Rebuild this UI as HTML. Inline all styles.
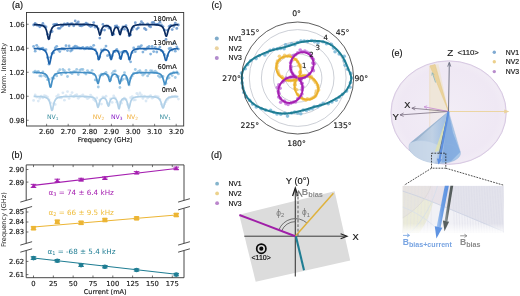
<!DOCTYPE html>
<html><head><meta charset="utf-8"><title>figure</title>
<style>html,body{margin:0;padding:0;background:#fff}svg{display:block}</style></head>
<body><svg width="520" height="296" viewBox="0 0 520 296">
<rect width="520" height="296" fill="#fff"/>
<g id="pa">
<text x="12.00" y="7.60" font-size="9.0" fill="#111" stroke="#111" stroke-width="0.16" text-anchor="start" font-family="Liberation Sans, sans-serif" >(a)</text>
<g fill="#4f84c4" fill-opacity="0.75"><circle cx="33.6" cy="25.0" r="1.4"/><circle cx="35.2" cy="23.5" r="1.4"/><circle cx="36.7" cy="25.1" r="1.4"/><circle cx="38.3" cy="25.4" r="1.4"/><circle cx="39.8" cy="26.8" r="1.4"/><circle cx="41.3" cy="25.7" r="1.4"/><circle cx="42.9" cy="23.5" r="1.4"/><circle cx="44.4" cy="25.9" r="1.4"/><circle cx="46.0" cy="27.0" r="1.4"/><circle cx="47.5" cy="34.3" r="1.4"/><circle cx="49.0" cy="38.2" r="1.4"/><circle cx="50.6" cy="31.9" r="1.4"/><circle cx="52.1" cy="31.5" r="1.4"/><circle cx="53.7" cy="24.6" r="1.4"/><circle cx="55.2" cy="24.5" r="1.4"/><circle cx="56.7" cy="24.1" r="1.4"/><circle cx="58.3" cy="28.3" r="1.4"/><circle cx="59.8" cy="28.3" r="1.4"/><circle cx="61.4" cy="26.5" r="1.4"/><circle cx="62.9" cy="25.5" r="1.4"/><circle cx="64.4" cy="23.9" r="1.4"/><circle cx="66.0" cy="24.6" r="1.4"/><circle cx="67.5" cy="23.4" r="1.4"/><circle cx="69.1" cy="25.8" r="1.4"/><circle cx="70.6" cy="23.8" r="1.4"/><circle cx="72.1" cy="23.6" r="1.4"/><circle cx="73.7" cy="25.8" r="1.4"/><circle cx="75.2" cy="20.9" r="1.4"/><circle cx="76.7" cy="23.3" r="1.4"/><circle cx="78.3" cy="22.0" r="1.4"/><circle cx="79.8" cy="25.7" r="1.4"/><circle cx="81.4" cy="25.9" r="1.4"/><circle cx="82.9" cy="25.2" r="1.4"/><circle cx="84.4" cy="24.7" r="1.4"/><circle cx="86.0" cy="23.2" r="1.4"/><circle cx="87.5" cy="24.0" r="1.4"/><circle cx="89.1" cy="25.5" r="1.4"/><circle cx="90.6" cy="26.6" r="1.4"/><circle cx="92.1" cy="25.9" r="1.4"/><circle cx="93.7" cy="22.6" r="1.4"/><circle cx="95.2" cy="27.2" r="1.4"/><circle cx="96.8" cy="26.1" r="1.4"/><circle cx="98.3" cy="28.8" r="1.4"/><circle cx="99.8" cy="38.1" r="1.4"/><circle cx="101.4" cy="30.4" r="1.4"/><circle cx="102.9" cy="24.4" r="1.4"/><circle cx="104.5" cy="30.1" r="1.4"/><circle cx="106.0" cy="26.3" r="1.4"/><circle cx="107.5" cy="26.0" r="1.4"/><circle cx="109.1" cy="28.2" r="1.4"/><circle cx="110.6" cy="27.9" r="1.4"/><circle cx="112.2" cy="34.8" r="1.4"/><circle cx="113.7" cy="34.2" r="1.4"/><circle cx="115.2" cy="26.1" r="1.4"/><circle cx="116.8" cy="26.0" r="1.4"/><circle cx="118.3" cy="27.5" r="1.4"/><circle cx="119.9" cy="31.6" r="1.4"/><circle cx="121.4" cy="29.6" r="1.4"/><circle cx="122.9" cy="27.0" r="1.4"/><circle cx="124.5" cy="29.2" r="1.4"/><circle cx="126.0" cy="25.7" r="1.4"/><circle cx="127.6" cy="30.5" r="1.4"/><circle cx="129.1" cy="35.8" r="1.4"/><circle cx="130.6" cy="34.8" r="1.4"/><circle cx="132.2" cy="29.5" r="1.4"/><circle cx="133.7" cy="27.0" r="1.4"/><circle cx="135.3" cy="22.7" r="1.4"/><circle cx="136.8" cy="29.1" r="1.4"/><circle cx="138.3" cy="27.8" r="1.4"/><circle cx="139.9" cy="24.2" r="1.4"/><circle cx="141.4" cy="21.7" r="1.4"/><circle cx="142.9" cy="23.4" r="1.4"/><circle cx="144.5" cy="28.4" r="1.4"/><circle cx="146.0" cy="29.7" r="1.4"/><circle cx="147.6" cy="23.8" r="1.4"/><circle cx="149.1" cy="26.1" r="1.4"/><circle cx="150.6" cy="26.9" r="1.4"/><circle cx="152.2" cy="22.6" r="1.4"/><circle cx="153.7" cy="22.4" r="1.4"/><circle cx="155.3" cy="24.4" r="1.4"/><circle cx="156.8" cy="24.4" r="1.4"/><circle cx="158.3" cy="24.2" r="1.4"/><circle cx="159.9" cy="22.2" r="1.4"/><circle cx="161.4" cy="24.9" r="1.4"/><circle cx="163.0" cy="26.6" r="1.4"/><circle cx="164.5" cy="30.1" r="1.4"/><circle cx="166.0" cy="39.4" r="1.4"/><circle cx="167.6" cy="30.2" r="1.4"/><circle cx="169.1" cy="26.4" r="1.4"/><circle cx="170.7" cy="25.4" r="1.4"/><circle cx="172.2" cy="29.6" r="1.4"/><circle cx="173.7" cy="26.4" r="1.4"/><circle cx="175.3" cy="23.2" r="1.4"/><circle cx="176.8" cy="28.4" r="1.4"/><circle cx="178.4" cy="25.0" r="1.4"/></g>
<polyline fill="none" stroke="#0a2c62" stroke-width="1.7" stroke-linejoin="round" points="33.64,24.51 34.00,24.53 34.36,24.54 34.73,24.55 35.09,24.57 35.45,24.58 35.81,24.60 36.17,24.62 36.53,24.64 36.90,24.66 37.26,24.69 37.62,24.71 37.98,24.74 38.34,24.78 38.71,24.81 39.07,24.85 39.43,24.90 39.79,24.95 40.15,25.00 40.51,25.06 40.88,25.13 41.24,25.21 41.60,25.30 41.96,25.41 42.32,25.53 42.69,25.67 43.05,25.83 43.41,26.02 43.77,26.25 44.13,26.52 44.49,26.85 44.86,27.26 45.22,27.75 45.58,28.36 45.94,29.11 46.30,30.05 46.66,31.22 47.03,32.63 47.39,34.29 47.75,36.09 48.11,37.78 48.47,38.96 48.84,39.26 49.20,38.56 49.56,37.11 49.92,35.34 50.28,33.58 50.64,32.01 51.01,30.70 51.37,29.64 51.73,28.78 52.09,28.09 52.45,27.54 52.82,27.09 53.18,26.72 53.54,26.41 53.90,26.16 54.26,25.95 54.62,25.77 54.99,25.62 55.35,25.49 55.71,25.37 56.07,25.28 56.43,25.19 56.80,25.12 57.16,25.05 57.52,24.99 57.88,24.94 58.24,24.89 58.60,24.85 58.97,24.82 59.33,24.78 59.69,24.75 60.05,24.72 60.41,24.70 60.77,24.68 61.14,24.66 61.50,24.64 61.86,24.62 62.22,24.60 62.58,24.59 62.95,24.57 63.31,24.56 63.67,24.55 64.03,24.54 64.39,24.53 64.75,24.52 65.12,24.51 65.48,24.50 65.84,24.50 66.20,24.49 66.56,24.48 66.93,24.48 67.29,24.47 67.65,24.47 68.01,24.46 68.37,24.46 68.73,24.45 69.10,24.45 69.46,24.45 69.82,24.44 70.18,24.44 70.54,24.44 70.91,24.43 71.27,24.43 71.63,24.43 71.99,24.43 72.35,24.43 72.71,24.42 73.08,24.42 73.44,24.42 73.80,24.42 74.16,24.42 74.52,24.42 74.89,24.42 75.25,24.42 75.61,24.42 75.97,24.42 76.33,24.42 76.69,24.42 77.06,24.42 77.42,24.42 77.78,24.42 78.14,24.42 78.50,24.42 78.87,24.43 79.23,24.43 79.59,24.43 79.95,24.43 80.31,24.43 80.67,24.44 81.04,24.44 81.40,24.44 81.76,24.44 82.12,24.45 82.48,24.45 82.84,24.46 83.21,24.46 83.57,24.46 83.93,24.47 84.29,24.47 84.65,24.48 85.02,24.49 85.38,24.49 85.74,24.50 86.10,24.51 86.46,24.52 86.82,24.53 87.19,24.54 87.55,24.55 87.91,24.56 88.27,24.57 88.63,24.59 89.00,24.60 89.36,24.62 89.72,24.64 90.08,24.66 90.44,24.68 90.80,24.71 91.17,24.73 91.53,24.77 91.89,24.80 92.25,24.84 92.61,24.89 92.98,24.94 93.34,25.00 93.70,25.07 94.06,25.15 94.42,25.25 94.78,25.36 95.15,25.50 95.51,25.67 95.87,25.87 96.23,26.12 96.59,26.44 96.95,26.84 97.32,27.35 97.68,28.02 98.04,28.88 98.40,29.99 98.76,31.35 99.13,32.87 99.49,34.26 99.85,35.03 100.21,34.82 100.57,33.74 100.93,32.27 101.30,30.82 101.66,29.59 102.02,28.61 102.38,27.86 102.74,27.30 103.11,26.86 103.47,26.53 103.83,26.28 104.19,26.09 104.55,25.94 104.91,25.83 105.28,25.76 105.64,25.70 106.00,25.68 106.36,25.67 106.72,25.69 107.09,25.73 107.45,25.79 107.81,25.88 108.17,26.01 108.53,26.18 108.89,26.40 109.26,26.69 109.62,27.07 109.98,27.57 110.34,28.24 110.70,29.13 111.07,30.29 111.43,31.73 111.79,33.32 112.15,34.64 112.51,35.12 112.87,34.51 113.24,33.16 113.60,31.64 113.96,30.31 114.32,29.27 114.68,28.51 115.05,27.97 115.41,27.61 115.77,27.39 116.13,27.29 116.49,27.29 116.85,27.41 117.22,27.64 117.58,28.02 117.94,28.58 118.30,29.37 118.66,30.42 119.02,31.75 119.39,33.19 119.75,34.33 120.11,34.63 120.47,33.92 120.83,32.57 121.20,31.11 121.56,29.84 121.92,28.85 122.28,28.11 122.64,27.56 123.00,27.17 123.37,26.89 123.73,26.69 124.09,26.58 124.45,26.52 124.81,26.52 125.18,26.58 125.54,26.69 125.90,26.88 126.26,27.15 126.62,27.52 126.98,28.03 127.35,28.71 127.71,29.62 128.07,30.79 128.43,32.22 128.79,33.78 129.16,35.11 129.52,35.68 129.88,35.21 130.24,33.92 130.60,32.33 130.96,30.82 131.33,29.56 131.69,28.56 132.05,27.79 132.41,27.20 132.77,26.74 133.13,26.38 133.50,26.09 133.86,25.86 134.22,25.67 134.58,25.52 134.94,25.39 135.31,25.28 135.67,25.19 136.03,25.11 136.39,25.04 136.75,24.98 137.11,24.93 137.48,24.89 137.84,24.85 138.20,24.81 138.56,24.78 138.92,24.76 139.29,24.73 139.65,24.71 140.01,24.69 140.37,24.67 140.73,24.66 141.09,24.64 141.46,24.63 141.82,24.62 142.18,24.61 142.54,24.60 142.90,24.59 143.27,24.58 143.63,24.58 143.99,24.57 144.35,24.57 144.71,24.56 145.07,24.56 145.44,24.55 145.80,24.55 146.16,24.55 146.52,24.55 146.88,24.55 147.25,24.55 147.61,24.55 147.97,24.55 148.33,24.55 148.69,24.55 149.05,24.55 149.42,24.56 149.78,24.56 150.14,24.57 150.50,24.57 150.86,24.58 151.22,24.58 151.59,24.59 151.95,24.60 152.31,24.61 152.67,24.62 153.03,24.63 153.40,24.65 153.76,24.66 154.12,24.68 154.48,24.70 154.84,24.72 155.20,24.74 155.57,24.76 155.93,24.79 156.29,24.82 156.65,24.85 157.01,24.89 157.38,24.93 157.74,24.98 158.10,25.04 158.46,25.10 158.82,25.17 159.18,25.25 159.55,25.34 159.91,25.45 160.27,25.58 160.63,25.72 160.99,25.89 161.36,26.10 161.72,26.34 162.08,26.64 162.44,26.99 162.80,27.43 163.16,27.96 163.53,28.62 163.89,29.43 164.25,30.42 164.61,31.58 164.97,32.90 165.34,34.26 165.70,35.45 166.06,36.18 166.42,36.23 166.78,35.58 167.14,34.43 167.51,33.08 167.87,31.75 168.23,30.55 168.59,29.54 168.95,28.71 169.31,28.03 169.68,27.48 170.04,27.03 170.40,26.66 170.76,26.36 171.12,26.11 171.49,25.90 171.85,25.72 172.21,25.57 172.57,25.44 172.93,25.33 173.29,25.23 173.66,25.15 174.02,25.07 174.38,25.01 174.74,24.95 175.10,24.90 175.47,24.85 175.83,24.81 176.19,24.78 176.55,24.74 176.91,24.71 177.27,24.69 177.64,24.66 178.00,24.64 178.36,24.62"/>
<g fill="#5f9bd2" fill-opacity="0.75"><circle cx="33.6" cy="46.4" r="1.4"/><circle cx="35.2" cy="51.2" r="1.4"/><circle cx="36.7" cy="45.3" r="1.4"/><circle cx="38.3" cy="47.6" r="1.4"/><circle cx="39.8" cy="49.2" r="1.4"/><circle cx="41.3" cy="48.5" r="1.4"/><circle cx="42.9" cy="48.2" r="1.4"/><circle cx="44.4" cy="50.1" r="1.4"/><circle cx="46.0" cy="49.7" r="1.4"/><circle cx="47.5" cy="57.6" r="1.4"/><circle cx="49.0" cy="64.2" r="1.4"/><circle cx="50.6" cy="57.6" r="1.4"/><circle cx="52.1" cy="53.5" r="1.4"/><circle cx="53.7" cy="52.8" r="1.4"/><circle cx="55.2" cy="47.9" r="1.4"/><circle cx="56.7" cy="46.3" r="1.4"/><circle cx="58.3" cy="49.9" r="1.4"/><circle cx="59.8" cy="51.6" r="1.4"/><circle cx="61.4" cy="49.0" r="1.4"/><circle cx="62.9" cy="48.9" r="1.4"/><circle cx="64.4" cy="49.2" r="1.4"/><circle cx="66.0" cy="45.7" r="1.4"/><circle cx="67.5" cy="50.6" r="1.4"/><circle cx="69.1" cy="45.9" r="1.4"/><circle cx="70.6" cy="51.0" r="1.4"/><circle cx="72.1" cy="50.0" r="1.4"/><circle cx="73.7" cy="47.1" r="1.4"/><circle cx="75.2" cy="46.1" r="1.4"/><circle cx="76.7" cy="46.7" r="1.4"/><circle cx="78.3" cy="47.7" r="1.4"/><circle cx="79.8" cy="48.2" r="1.4"/><circle cx="81.4" cy="48.2" r="1.4"/><circle cx="82.9" cy="47.3" r="1.4"/><circle cx="84.4" cy="48.9" r="1.4"/><circle cx="86.0" cy="48.0" r="1.4"/><circle cx="87.5" cy="47.4" r="1.4"/><circle cx="89.1" cy="48.7" r="1.4"/><circle cx="90.6" cy="47.2" r="1.4"/><circle cx="92.1" cy="47.9" r="1.4"/><circle cx="93.7" cy="45.3" r="1.4"/><circle cx="95.2" cy="49.6" r="1.4"/><circle cx="96.8" cy="53.4" r="1.4"/><circle cx="98.3" cy="59.1" r="1.4"/><circle cx="99.8" cy="56.7" r="1.4"/><circle cx="101.4" cy="50.0" r="1.4"/><circle cx="102.9" cy="51.0" r="1.4"/><circle cx="104.5" cy="49.0" r="1.4"/><circle cx="106.0" cy="46.1" r="1.4"/><circle cx="107.5" cy="55.7" r="1.4"/><circle cx="109.1" cy="54.8" r="1.4"/><circle cx="110.6" cy="57.8" r="1.4"/><circle cx="112.2" cy="55.7" r="1.4"/><circle cx="113.7" cy="51.4" r="1.4"/><circle cx="115.2" cy="51.5" r="1.4"/><circle cx="116.8" cy="49.3" r="1.4"/><circle cx="118.3" cy="51.4" r="1.4"/><circle cx="119.9" cy="57.9" r="1.4"/><circle cx="121.4" cy="52.4" r="1.4"/><circle cx="122.9" cy="51.6" r="1.4"/><circle cx="124.5" cy="52.0" r="1.4"/><circle cx="126.0" cy="51.3" r="1.4"/><circle cx="127.6" cy="53.8" r="1.4"/><circle cx="129.1" cy="59.1" r="1.4"/><circle cx="130.6" cy="61.8" r="1.4"/><circle cx="132.2" cy="52.6" r="1.4"/><circle cx="133.7" cy="47.9" r="1.4"/><circle cx="135.3" cy="51.7" r="1.4"/><circle cx="136.8" cy="49.1" r="1.4"/><circle cx="138.3" cy="46.9" r="1.4"/><circle cx="139.9" cy="47.0" r="1.4"/><circle cx="141.4" cy="45.6" r="1.4"/><circle cx="142.9" cy="52.1" r="1.4"/><circle cx="144.5" cy="49.3" r="1.4"/><circle cx="146.0" cy="49.3" r="1.4"/><circle cx="147.6" cy="47.3" r="1.4"/><circle cx="149.1" cy="46.3" r="1.4"/><circle cx="150.6" cy="54.1" r="1.4"/><circle cx="152.2" cy="46.4" r="1.4"/><circle cx="153.7" cy="51.6" r="1.4"/><circle cx="155.3" cy="47.4" r="1.4"/><circle cx="156.8" cy="52.0" r="1.4"/><circle cx="158.3" cy="48.8" r="1.4"/><circle cx="159.9" cy="47.1" r="1.4"/><circle cx="161.4" cy="50.7" r="1.4"/><circle cx="163.0" cy="51.8" r="1.4"/><circle cx="164.5" cy="54.7" r="1.4"/><circle cx="166.0" cy="60.0" r="1.4"/><circle cx="167.6" cy="55.8" r="1.4"/><circle cx="169.1" cy="48.7" r="1.4"/><circle cx="170.7" cy="48.1" r="1.4"/><circle cx="172.2" cy="50.1" r="1.4"/><circle cx="173.7" cy="43.5" r="1.4"/><circle cx="175.3" cy="51.2" r="1.4"/><circle cx="176.8" cy="46.8" r="1.4"/><circle cx="178.4" cy="49.1" r="1.4"/></g>
<polyline fill="none" stroke="#1c62ab" stroke-width="1.7" stroke-linejoin="round" points="33.64,48.50 34.00,48.51 34.36,48.53 34.73,48.54 35.09,48.55 35.45,48.57 35.81,48.58 36.17,48.60 36.53,48.62 36.90,48.64 37.26,48.66 37.62,48.69 37.98,48.71 38.34,48.74 38.71,48.77 39.07,48.81 39.43,48.84 39.79,48.89 40.15,48.93 40.51,48.99 40.88,49.04 41.24,49.11 41.60,49.19 41.96,49.27 42.32,49.37 42.69,49.48 43.05,49.61 43.41,49.76 43.77,49.93 44.13,50.14 44.49,50.39 44.86,50.68 45.22,51.04 45.58,51.48 45.94,52.01 46.30,52.67 46.66,53.49 47.03,54.52 47.39,55.78 47.75,57.31 48.11,59.08 48.47,60.95 48.84,62.64 49.20,63.70 49.56,63.79 49.92,62.87 50.28,61.25 50.64,59.39 51.01,57.59 51.37,56.02 51.73,54.71 52.09,53.65 52.45,52.80 52.82,52.12 53.18,51.56 53.54,51.11 53.90,50.75 54.26,50.44 54.62,50.19 54.99,49.98 55.35,49.80 55.71,49.64 56.07,49.51 56.43,49.40 56.80,49.30 57.16,49.21 57.52,49.14 57.88,49.07 58.24,49.01 58.60,48.96 58.97,48.91 59.33,48.87 59.69,48.83 60.05,48.80 60.41,48.77 60.77,48.74 61.14,48.71 61.50,48.69 61.86,48.67 62.22,48.65 62.58,48.63 62.95,48.62 63.31,48.60 63.67,48.59 64.03,48.57 64.39,48.56 64.75,48.55 65.12,48.54 65.48,48.53 65.84,48.52 66.20,48.52 66.56,48.51 66.93,48.50 67.29,48.49 67.65,48.49 68.01,48.48 68.37,48.48 68.73,48.47 69.10,48.47 69.46,48.47 69.82,48.46 70.18,48.46 70.54,48.45 70.91,48.45 71.27,48.45 71.63,48.45 71.99,48.45 72.35,48.44 72.71,48.44 73.08,48.44 73.44,48.44 73.80,48.44 74.16,48.44 74.52,48.44 74.89,48.44 75.25,48.44 75.61,48.44 75.97,48.44 76.33,48.44 76.69,48.44 77.06,48.44 77.42,48.44 77.78,48.44 78.14,48.44 78.50,48.44 78.87,48.44 79.23,48.45 79.59,48.45 79.95,48.45 80.31,48.45 80.67,48.46 81.04,48.46 81.40,48.46 81.76,48.47 82.12,48.47 82.48,48.48 82.84,48.48 83.21,48.49 83.57,48.49 83.93,48.50 84.29,48.51 84.65,48.51 85.02,48.52 85.38,48.53 85.74,48.54 86.10,48.55 86.46,48.56 86.82,48.57 87.19,48.59 87.55,48.60 87.91,48.62 88.27,48.64 88.63,48.65 89.00,48.68 89.36,48.70 89.72,48.73 90.08,48.76 90.44,48.79 90.80,48.83 91.17,48.87 91.53,48.92 91.89,48.97 92.25,49.03 92.61,49.11 92.98,49.19 93.34,49.29 93.70,49.41 94.06,49.55 94.42,49.73 94.78,49.94 95.15,50.20 95.51,50.53 95.87,50.94 96.23,51.48 96.59,52.17 96.95,53.08 97.32,54.23 97.68,55.65 98.04,57.24 98.40,58.69 98.76,59.51 99.13,59.31 99.49,58.19 99.85,56.65 100.21,55.13 100.57,53.84 100.93,52.82 101.30,52.04 101.66,51.44 102.02,50.99 102.38,50.64 102.74,50.38 103.11,50.17 103.47,50.02 103.83,49.91 104.19,49.83 104.55,49.78 104.91,49.76 105.28,49.76 105.64,49.78 106.00,49.83 106.36,49.91 106.72,50.02 107.09,50.17 107.45,50.37 107.81,50.64 108.17,50.99 108.53,51.46 108.89,52.08 109.26,52.90 109.62,54.00 109.98,55.40 110.34,57.03 110.70,58.60 111.07,59.54 111.43,59.34 111.79,58.14 112.15,56.52 112.51,54.97 112.87,53.70 113.24,52.73 113.60,52.01 113.96,51.49 114.32,51.11 114.68,50.83 115.05,50.65 115.41,50.53 115.77,50.47 116.13,50.47 116.49,50.53 116.85,50.64 117.22,50.82 117.58,51.09 117.94,51.46 118.30,51.97 118.66,52.67 119.02,53.61 119.39,54.84 119.75,56.33 120.11,57.87 120.47,58.96 120.83,59.08 121.20,58.15 121.56,56.67 121.92,55.16 122.28,53.89 122.64,52.92 123.00,52.20 123.37,51.68 123.73,51.31 124.09,51.06 124.45,50.90 124.81,50.83 125.18,50.83 125.54,50.91 125.90,51.06 126.26,51.30 126.62,51.65 126.98,52.14 127.35,52.81 127.71,53.70 128.07,54.86 128.43,56.29 128.79,57.84 129.16,59.16 129.52,59.73 129.88,59.25 130.24,57.96 130.60,56.36 130.96,54.85 131.33,53.59 131.69,52.59 132.05,51.82 132.41,51.22 132.77,50.76 133.13,50.40 133.50,50.11 133.86,49.88 134.22,49.69 134.58,49.53 134.94,49.40 135.31,49.29 135.67,49.20 136.03,49.12 136.39,49.05 136.75,48.99 137.11,48.94 137.48,48.90 137.84,48.86 138.20,48.82 138.56,48.79 138.92,48.77 139.29,48.74 139.65,48.72 140.01,48.70 140.37,48.68 140.73,48.67 141.09,48.65 141.46,48.64 141.82,48.63 142.18,48.62 142.54,48.61 142.90,48.60 143.27,48.59 143.63,48.58 143.99,48.58 144.35,48.57 144.71,48.57 145.07,48.56 145.44,48.56 145.80,48.56 146.16,48.56 146.52,48.56 146.88,48.56 147.25,48.55 147.61,48.56 147.97,48.56 148.33,48.56 148.69,48.56 149.05,48.56 149.42,48.57 149.78,48.57 150.14,48.58 150.50,48.58 150.86,48.59 151.22,48.60 151.59,48.61 151.95,48.61 152.31,48.63 152.67,48.64 153.03,48.65 153.40,48.66 153.76,48.68 154.12,48.70 154.48,48.72 154.84,48.74 155.20,48.76 155.57,48.79 155.93,48.82 156.29,48.85 156.65,48.89 157.01,48.93 157.38,48.98 157.74,49.03 158.10,49.10 158.46,49.17 158.82,49.24 159.18,49.34 159.55,49.44 159.91,49.56 160.27,49.71 160.63,49.88 160.99,50.08 161.36,50.32 161.72,50.61 162.08,50.96 162.44,51.38 162.80,51.91 163.16,52.55 163.53,53.34 163.89,54.31 164.25,55.46 164.61,56.76 164.97,58.13 165.34,59.34 165.70,60.14 166.06,60.26 166.42,59.68 166.78,58.57 167.14,57.23 167.51,55.88 167.87,54.67 168.23,53.64 168.59,52.79 168.95,52.10 169.31,51.53 169.68,51.07 170.04,50.70 170.40,50.39 170.76,50.13 171.12,49.92 171.49,49.74 171.85,49.58 172.21,49.45 172.57,49.34 172.93,49.24 173.29,49.16 173.66,49.08 174.02,49.02 174.38,48.96 174.74,48.91 175.10,48.86 175.47,48.82 175.83,48.78 176.19,48.75 176.55,48.72 176.91,48.69 177.27,48.66 177.64,48.64 178.00,48.62 178.36,48.60"/>
<g fill="#86b9dd" fill-opacity="0.75"><circle cx="33.6" cy="72.2" r="1.4"/><circle cx="35.2" cy="71.1" r="1.4"/><circle cx="36.7" cy="72.1" r="1.4"/><circle cx="38.3" cy="71.3" r="1.4"/><circle cx="39.8" cy="75.9" r="1.4"/><circle cx="41.3" cy="76.0" r="1.4"/><circle cx="42.9" cy="71.9" r="1.4"/><circle cx="44.4" cy="75.6" r="1.4"/><circle cx="46.0" cy="76.7" r="1.4"/><circle cx="47.5" cy="79.7" r="1.4"/><circle cx="49.0" cy="79.3" r="1.4"/><circle cx="50.6" cy="85.7" r="1.4"/><circle cx="52.1" cy="78.1" r="1.4"/><circle cx="53.7" cy="78.3" r="1.4"/><circle cx="55.2" cy="74.5" r="1.4"/><circle cx="56.7" cy="75.9" r="1.4"/><circle cx="58.3" cy="71.6" r="1.4"/><circle cx="59.8" cy="69.7" r="1.4"/><circle cx="61.4" cy="74.6" r="1.4"/><circle cx="62.9" cy="69.5" r="1.4"/><circle cx="64.4" cy="70.6" r="1.4"/><circle cx="66.0" cy="72.9" r="1.4"/><circle cx="67.5" cy="76.5" r="1.4"/><circle cx="69.1" cy="69.6" r="1.4"/><circle cx="70.6" cy="72.7" r="1.4"/><circle cx="72.1" cy="73.7" r="1.4"/><circle cx="73.7" cy="71.6" r="1.4"/><circle cx="75.2" cy="71.6" r="1.4"/><circle cx="76.7" cy="69.4" r="1.4"/><circle cx="78.3" cy="74.5" r="1.4"/><circle cx="79.8" cy="70.1" r="1.4"/><circle cx="81.4" cy="69.4" r="1.4"/><circle cx="82.9" cy="69.5" r="1.4"/><circle cx="84.4" cy="72.9" r="1.4"/><circle cx="86.0" cy="74.1" r="1.4"/><circle cx="87.5" cy="70.6" r="1.4"/><circle cx="89.1" cy="72.5" r="1.4"/><circle cx="90.6" cy="72.6" r="1.4"/><circle cx="92.1" cy="70.3" r="1.4"/><circle cx="93.7" cy="74.3" r="1.4"/><circle cx="95.2" cy="79.9" r="1.4"/><circle cx="96.8" cy="80.2" r="1.4"/><circle cx="98.3" cy="87.0" r="1.4"/><circle cx="99.8" cy="75.7" r="1.4"/><circle cx="101.4" cy="74.1" r="1.4"/><circle cx="102.9" cy="75.1" r="1.4"/><circle cx="104.5" cy="73.7" r="1.4"/><circle cx="106.0" cy="72.3" r="1.4"/><circle cx="107.5" cy="75.2" r="1.4"/><circle cx="109.1" cy="76.8" r="1.4"/><circle cx="110.6" cy="80.0" r="1.4"/><circle cx="112.2" cy="73.5" r="1.4"/><circle cx="113.7" cy="71.3" r="1.4"/><circle cx="115.2" cy="71.0" r="1.4"/><circle cx="116.8" cy="76.5" r="1.4"/><circle cx="118.3" cy="76.5" r="1.4"/><circle cx="119.9" cy="87.5" r="1.4"/><circle cx="121.4" cy="80.4" r="1.4"/><circle cx="122.9" cy="79.3" r="1.4"/><circle cx="124.5" cy="72.7" r="1.4"/><circle cx="126.0" cy="78.4" r="1.4"/><circle cx="127.6" cy="79.9" r="1.4"/><circle cx="129.1" cy="84.9" r="1.4"/><circle cx="130.6" cy="78.2" r="1.4"/><circle cx="132.2" cy="76.1" r="1.4"/><circle cx="133.7" cy="73.2" r="1.4"/><circle cx="135.3" cy="69.5" r="1.4"/><circle cx="136.8" cy="72.8" r="1.4"/><circle cx="138.3" cy="71.7" r="1.4"/><circle cx="139.9" cy="70.6" r="1.4"/><circle cx="141.4" cy="73.0" r="1.4"/><circle cx="142.9" cy="75.2" r="1.4"/><circle cx="144.5" cy="73.7" r="1.4"/><circle cx="146.0" cy="70.4" r="1.4"/><circle cx="147.6" cy="75.9" r="1.4"/><circle cx="149.1" cy="73.8" r="1.4"/><circle cx="150.6" cy="70.6" r="1.4"/><circle cx="152.2" cy="71.0" r="1.4"/><circle cx="153.7" cy="72.7" r="1.4"/><circle cx="155.3" cy="71.2" r="1.4"/><circle cx="156.8" cy="72.7" r="1.4"/><circle cx="158.3" cy="75.8" r="1.4"/><circle cx="159.9" cy="77.2" r="1.4"/><circle cx="161.4" cy="76.6" r="1.4"/><circle cx="163.0" cy="76.4" r="1.4"/><circle cx="164.5" cy="84.6" r="1.4"/><circle cx="166.0" cy="83.4" r="1.4"/><circle cx="167.6" cy="78.4" r="1.4"/><circle cx="169.1" cy="77.7" r="1.4"/><circle cx="170.7" cy="73.9" r="1.4"/><circle cx="172.2" cy="75.6" r="1.4"/><circle cx="173.7" cy="72.2" r="1.4"/><circle cx="175.3" cy="77.5" r="1.4"/><circle cx="176.8" cy="72.0" r="1.4"/><circle cx="178.4" cy="73.9" r="1.4"/></g>
<polyline fill="none" stroke="#4590c6" stroke-width="1.7" stroke-linejoin="round" points="33.64,72.47 34.00,72.48 34.36,72.49 34.73,72.50 35.09,72.51 35.45,72.52 35.81,72.53 36.17,72.54 36.53,72.56 36.90,72.57 37.26,72.59 37.62,72.61 37.98,72.63 38.34,72.65 38.71,72.67 39.07,72.70 39.43,72.72 39.79,72.75 40.15,72.79 40.51,72.82 40.88,72.86 41.24,72.91 41.60,72.96 41.96,73.02 42.32,73.08 42.69,73.15 43.05,73.23 43.41,73.33 43.77,73.44 44.13,73.56 44.49,73.70 44.86,73.87 45.22,74.07 45.58,74.31 45.94,74.60 46.30,74.94 46.66,75.36 47.03,75.88 47.39,76.51 47.75,77.31 48.11,78.29 48.47,79.51 48.84,80.99 49.20,82.69 49.56,84.49 49.92,86.11 50.28,87.12 50.64,87.19 51.01,86.29 51.37,84.73 51.73,82.94 52.09,81.21 52.45,79.70 52.82,78.45 53.18,77.43 53.54,76.62 53.90,75.96 54.26,75.43 54.62,75.00 54.99,74.65 55.35,74.36 55.71,74.11 56.07,73.91 56.43,73.74 56.80,73.59 57.16,73.47 57.52,73.36 57.88,73.26 58.24,73.18 58.60,73.11 58.97,73.04 59.33,72.99 59.69,72.94 60.05,72.89 60.41,72.85 60.77,72.81 61.14,72.78 61.50,72.75 61.86,72.73 62.22,72.70 62.58,72.68 62.95,72.66 63.31,72.64 63.67,72.62 64.03,72.61 64.39,72.59 64.75,72.58 65.12,72.57 65.48,72.56 65.84,72.55 66.20,72.54 66.56,72.53 66.93,72.52 67.29,72.51 67.65,72.51 68.01,72.50 68.37,72.49 68.73,72.49 69.10,72.48 69.46,72.48 69.82,72.47 70.18,72.47 70.54,72.47 70.91,72.46 71.27,72.46 71.63,72.46 71.99,72.45 72.35,72.45 72.71,72.45 73.08,72.45 73.44,72.45 73.80,72.45 74.16,72.44 74.52,72.44 74.89,72.44 75.25,72.44 75.61,72.44 75.97,72.44 76.33,72.44 76.69,72.44 77.06,72.45 77.42,72.45 77.78,72.45 78.14,72.45 78.50,72.45 78.87,72.45 79.23,72.46 79.59,72.46 79.95,72.46 80.31,72.46 80.67,72.47 81.04,72.47 81.40,72.48 81.76,72.48 82.12,72.48 82.48,72.49 82.84,72.50 83.21,72.50 83.57,72.51 83.93,72.52 84.29,72.52 84.65,72.53 85.02,72.54 85.38,72.55 85.74,72.56 86.10,72.58 86.46,72.59 86.82,72.61 87.19,72.62 87.55,72.64 87.91,72.66 88.27,72.68 88.63,72.71 89.00,72.73 89.36,72.76 89.72,72.80 90.08,72.84 90.44,72.88 90.80,72.93 91.17,72.99 91.53,73.05 91.89,73.13 92.25,73.22 92.61,73.33 92.98,73.45 93.34,73.61 93.70,73.79 94.06,74.02 94.42,74.31 94.78,74.67 95.15,75.13 95.51,75.72 95.87,76.48 96.23,77.48 96.59,78.74 96.95,80.24 97.32,81.83 97.68,83.10 98.04,83.54 98.40,82.94 98.76,81.60 99.13,80.02 99.49,78.58 99.85,77.39 100.21,76.47 100.57,75.76 100.93,75.22 101.30,74.81 101.66,74.50 102.02,74.26 102.38,74.08 102.74,73.94 103.11,73.84 103.47,73.77 103.83,73.73 104.19,73.71 104.55,73.72 104.91,73.75 105.28,73.82 105.64,73.91 106.00,74.04 106.36,74.22 106.72,74.46 107.09,74.79 107.45,75.22 107.81,75.80 108.17,76.58 108.53,77.59 108.89,78.84 109.26,80.16 109.62,81.18 109.98,81.43 110.34,80.75 110.70,79.54 111.07,78.24 111.43,77.13 111.79,76.26 112.15,75.61 112.51,75.13 112.87,74.78 113.24,74.54 113.60,74.37 113.96,74.26 114.32,74.20 114.68,74.18 115.05,74.21 115.41,74.29 115.77,74.41 116.13,74.59 116.49,74.84 116.85,75.19 117.22,75.66 117.58,76.29 117.94,77.14 118.30,78.26 118.66,79.69 119.02,81.34 119.39,82.87 119.75,83.68 120.11,83.35 120.47,82.07 120.83,80.44 121.20,78.93 121.56,77.71 121.92,76.78 122.28,76.11 122.64,75.62 123.00,75.28 123.37,75.05 123.73,74.92 124.09,74.86 124.45,74.87 124.81,74.96 125.18,75.13 125.54,75.38 125.90,75.75 126.26,76.26 126.62,76.95 126.98,77.87 127.35,79.08 127.71,80.58 128.07,82.26 128.43,83.80 128.79,84.63 129.16,84.36 129.52,83.10 129.88,81.39 130.24,79.70 130.60,78.27 130.96,77.13 131.33,76.25 131.69,75.57 132.05,75.04 132.41,74.62 132.77,74.30 133.13,74.03 133.50,73.82 133.86,73.65 134.22,73.50 134.58,73.38 134.94,73.28 135.31,73.19 135.67,73.11 136.03,73.05 136.39,72.99 136.75,72.94 137.11,72.90 137.48,72.86 137.84,72.82 138.20,72.79 138.56,72.77 138.92,72.74 139.29,72.72 139.65,72.70 140.01,72.68 140.37,72.67 140.73,72.65 141.09,72.64 141.46,72.63 141.82,72.62 142.18,72.61 142.54,72.60 142.90,72.59 143.27,72.59 143.63,72.58 143.99,72.58 144.35,72.57 144.71,72.57 145.07,72.57 145.44,72.56 145.80,72.56 146.16,72.56 146.52,72.56 146.88,72.56 147.25,72.56 147.61,72.56 147.97,72.57 148.33,72.57 148.69,72.57 149.05,72.58 149.42,72.58 149.78,72.59 150.14,72.60 150.50,72.60 150.86,72.61 151.22,72.62 151.59,72.63 151.95,72.64 152.31,72.66 152.67,72.67 153.03,72.69 153.40,72.71 153.76,72.73 154.12,72.75 154.48,72.78 154.84,72.80 155.20,72.84 155.57,72.87 155.93,72.91 156.29,72.96 156.65,73.01 157.01,73.06 157.38,73.13 157.74,73.20 158.10,73.29 158.46,73.39 158.82,73.50 159.18,73.64 159.55,73.79 159.91,73.98 160.27,74.20 160.63,74.47 160.99,74.79 161.36,75.18 161.72,75.66 162.08,76.25 162.44,76.98 162.80,77.87 163.16,78.94 163.53,80.18 163.89,81.52 164.25,82.78 164.61,83.72 164.97,84.06 165.34,83.70 165.70,82.74 166.06,81.47 166.42,80.13 166.78,78.90 167.14,77.83 167.51,76.95 167.87,76.22 168.23,75.63 168.59,75.15 168.95,74.76 169.31,74.44 169.68,74.17 170.04,73.95 170.40,73.76 170.76,73.60 171.12,73.47 171.49,73.35 171.85,73.25 172.21,73.16 172.57,73.09 172.93,73.02 173.29,72.96 173.66,72.91 174.02,72.86 174.38,72.82 174.74,72.78 175.10,72.75 175.47,72.72 175.83,72.69 176.19,72.67 176.55,72.64 176.91,72.62 177.27,72.60 177.64,72.58 178.00,72.57 178.36,72.55"/>
<g fill="#cfe2f1" fill-opacity="0.75"><circle cx="33.6" cy="100.4" r="1.4"/><circle cx="35.2" cy="95.0" r="1.4"/><circle cx="36.7" cy="97.1" r="1.4"/><circle cx="38.3" cy="101.1" r="1.4"/><circle cx="39.8" cy="98.4" r="1.4"/><circle cx="41.3" cy="96.1" r="1.4"/><circle cx="42.9" cy="97.8" r="1.4"/><circle cx="44.4" cy="95.6" r="1.4"/><circle cx="46.0" cy="96.1" r="1.4"/><circle cx="47.5" cy="97.1" r="1.4"/><circle cx="49.0" cy="99.9" r="1.4"/><circle cx="50.6" cy="102.8" r="1.4"/><circle cx="52.1" cy="109.1" r="1.4"/><circle cx="53.7" cy="103.6" r="1.4"/><circle cx="55.2" cy="104.4" r="1.4"/><circle cx="56.7" cy="96.5" r="1.4"/><circle cx="58.3" cy="94.9" r="1.4"/><circle cx="59.8" cy="97.7" r="1.4"/><circle cx="61.4" cy="97.8" r="1.4"/><circle cx="62.9" cy="92.8" r="1.4"/><circle cx="64.4" cy="100.2" r="1.4"/><circle cx="66.0" cy="95.6" r="1.4"/><circle cx="67.5" cy="91.6" r="1.4"/><circle cx="69.1" cy="98.4" r="1.4"/><circle cx="70.6" cy="95.1" r="1.4"/><circle cx="72.1" cy="92.6" r="1.4"/><circle cx="73.7" cy="96.7" r="1.4"/><circle cx="75.2" cy="95.3" r="1.4"/><circle cx="76.7" cy="94.6" r="1.4"/><circle cx="78.3" cy="98.3" r="1.4"/><circle cx="79.8" cy="96.6" r="1.4"/><circle cx="81.4" cy="95.9" r="1.4"/><circle cx="82.9" cy="94.8" r="1.4"/><circle cx="84.4" cy="96.6" r="1.4"/><circle cx="86.0" cy="97.0" r="1.4"/><circle cx="87.5" cy="98.7" r="1.4"/><circle cx="89.1" cy="97.5" r="1.4"/><circle cx="90.6" cy="95.1" r="1.4"/><circle cx="92.1" cy="97.0" r="1.4"/><circle cx="93.7" cy="99.5" r="1.4"/><circle cx="95.2" cy="100.9" r="1.4"/><circle cx="96.8" cy="97.9" r="1.4"/><circle cx="98.3" cy="104.7" r="1.4"/><circle cx="99.8" cy="100.1" r="1.4"/><circle cx="101.4" cy="104.1" r="1.4"/><circle cx="102.9" cy="96.9" r="1.4"/><circle cx="104.5" cy="97.3" r="1.4"/><circle cx="106.0" cy="96.2" r="1.4"/><circle cx="107.5" cy="103.2" r="1.4"/><circle cx="109.1" cy="104.7" r="1.4"/><circle cx="110.6" cy="98.8" r="1.4"/><circle cx="112.2" cy="102.4" r="1.4"/><circle cx="113.7" cy="96.0" r="1.4"/><circle cx="115.2" cy="98.0" r="1.4"/><circle cx="116.8" cy="102.2" r="1.4"/><circle cx="118.3" cy="104.3" r="1.4"/><circle cx="119.9" cy="102.1" r="1.4"/><circle cx="121.4" cy="103.2" r="1.4"/><circle cx="122.9" cy="100.1" r="1.4"/><circle cx="124.5" cy="98.1" r="1.4"/><circle cx="126.0" cy="99.4" r="1.4"/><circle cx="127.6" cy="104.5" r="1.4"/><circle cx="129.1" cy="110.2" r="1.4"/><circle cx="130.6" cy="97.7" r="1.4"/><circle cx="132.2" cy="96.7" r="1.4"/><circle cx="133.7" cy="100.1" r="1.4"/><circle cx="135.3" cy="99.9" r="1.4"/><circle cx="136.8" cy="93.5" r="1.4"/><circle cx="138.3" cy="94.8" r="1.4"/><circle cx="139.9" cy="93.0" r="1.4"/><circle cx="141.4" cy="95.0" r="1.4"/><circle cx="142.9" cy="98.4" r="1.4"/><circle cx="144.5" cy="96.1" r="1.4"/><circle cx="146.0" cy="101.0" r="1.4"/><circle cx="147.6" cy="98.1" r="1.4"/><circle cx="149.1" cy="96.8" r="1.4"/><circle cx="150.6" cy="95.6" r="1.4"/><circle cx="152.2" cy="98.2" r="1.4"/><circle cx="153.7" cy="97.1" r="1.4"/><circle cx="155.3" cy="96.2" r="1.4"/><circle cx="156.8" cy="96.7" r="1.4"/><circle cx="158.3" cy="96.9" r="1.4"/><circle cx="159.9" cy="99.4" r="1.4"/><circle cx="161.4" cy="104.3" r="1.4"/><circle cx="163.0" cy="106.4" r="1.4"/><circle cx="164.5" cy="103.9" r="1.4"/><circle cx="166.0" cy="101.7" r="1.4"/><circle cx="167.6" cy="99.6" r="1.4"/><circle cx="169.1" cy="97.5" r="1.4"/><circle cx="170.7" cy="97.3" r="1.4"/><circle cx="172.2" cy="96.5" r="1.4"/><circle cx="173.7" cy="96.7" r="1.4"/><circle cx="175.3" cy="96.2" r="1.4"/><circle cx="176.8" cy="96.8" r="1.4"/><circle cx="178.4" cy="99.1" r="1.4"/></g>
<polyline fill="none" stroke="#b2d1e8" stroke-width="1.7" stroke-linejoin="round" points="33.64,96.43 34.00,96.43 34.36,96.44 34.73,96.45 35.09,96.46 35.45,96.46 35.81,96.47 36.17,96.48 36.53,96.49 36.90,96.50 37.26,96.51 37.62,96.53 37.98,96.54 38.34,96.55 38.71,96.57 39.07,96.59 39.43,96.60 39.79,96.62 40.15,96.65 40.51,96.67 40.88,96.69 41.24,96.72 41.60,96.75 41.96,96.79 42.32,96.83 42.69,96.87 43.05,96.91 43.41,96.97 43.77,97.03 44.13,97.09 44.49,97.17 44.86,97.25 45.22,97.35 45.58,97.47 45.94,97.60 46.30,97.76 46.66,97.94 47.03,98.16 47.39,98.42 47.75,98.73 48.11,99.11 48.47,99.58 48.84,100.16 49.20,100.88 49.56,101.78 49.92,102.89 50.28,104.24 50.64,105.81 51.01,107.51 51.37,109.09 51.73,110.18 52.09,110.41 52.45,109.71 52.82,108.33 53.18,106.65 53.54,104.99 53.90,103.53 54.26,102.30 54.62,101.31 54.99,100.50 55.35,99.86 55.71,99.34 56.07,98.92 56.43,98.58 56.80,98.29 57.16,98.05 57.52,97.86 57.88,97.69 58.24,97.55 58.60,97.42 58.97,97.32 59.33,97.23 59.69,97.15 60.05,97.08 60.41,97.02 60.77,96.96 61.14,96.91 61.50,96.87 61.86,96.83 62.22,96.80 62.58,96.77 62.95,96.74 63.31,96.71 63.67,96.69 64.03,96.67 64.39,96.65 64.75,96.63 65.12,96.61 65.48,96.60 65.84,96.59 66.20,96.57 66.56,96.56 66.93,96.55 67.29,96.54 67.65,96.53 68.01,96.52 68.37,96.52 68.73,96.51 69.10,96.50 69.46,96.50 69.82,96.49 70.18,96.49 70.54,96.48 70.91,96.48 71.27,96.47 71.63,96.47 71.99,96.47 72.35,96.47 72.71,96.46 73.08,96.46 73.44,96.46 73.80,96.46 74.16,96.46 74.52,96.46 74.89,96.45 75.25,96.45 75.61,96.45 75.97,96.45 76.33,96.45 76.69,96.45 77.06,96.45 77.42,96.46 77.78,96.46 78.14,96.46 78.50,96.46 78.87,96.46 79.23,96.46 79.59,96.47 79.95,96.47 80.31,96.47 80.67,96.48 81.04,96.48 81.40,96.48 81.76,96.49 82.12,96.49 82.48,96.50 82.84,96.50 83.21,96.51 83.57,96.52 83.93,96.52 84.29,96.53 84.65,96.54 85.02,96.55 85.38,96.56 85.74,96.57 86.10,96.59 86.46,96.60 86.82,96.61 87.19,96.63 87.55,96.65 87.91,96.67 88.27,96.69 88.63,96.72 89.00,96.74 89.36,96.77 89.72,96.81 90.08,96.85 90.44,96.89 90.80,96.94 91.17,97.00 91.53,97.06 91.89,97.14 92.25,97.23 92.61,97.33 92.98,97.46 93.34,97.61 93.70,97.79 94.06,98.02 94.42,98.30 94.78,98.65 95.15,99.11 95.51,99.69 95.87,100.44 96.23,101.42 96.59,102.65 96.95,104.13 97.32,105.69 97.68,106.93 98.04,107.37 98.40,106.79 98.76,105.48 99.13,103.95 99.49,102.54 99.85,101.39 100.21,100.50 100.57,99.82 100.93,99.31 101.30,98.93 101.66,98.65 102.02,98.44 102.38,98.29 102.74,98.19 103.11,98.14 103.47,98.13 103.83,98.16 104.19,98.23 104.55,98.36 104.91,98.54 105.28,98.79 105.64,99.15 106.00,99.63 106.36,100.28 106.72,101.15 107.09,102.29 107.45,103.66 107.81,105.06 108.17,106.04 108.53,106.12 108.89,105.23 109.26,103.86 109.62,102.47 109.98,101.30 110.34,100.39 110.70,99.72 111.07,99.22 111.43,98.85 111.79,98.58 112.15,98.39 112.51,98.26 112.87,98.18 113.24,98.14 113.60,98.14 113.96,98.18 114.32,98.25 114.68,98.38 115.05,98.56 115.41,98.80 115.77,99.13 116.13,99.57 116.49,100.15 116.85,100.94 117.22,102.00 117.58,103.38 117.94,105.08 118.30,106.92 118.66,108.39 119.02,108.82 119.39,107.97 119.75,106.30 120.11,104.49 120.47,102.91 120.83,101.67 121.20,100.73 121.56,100.05 121.92,99.54 122.28,99.17 122.64,98.91 123.00,98.73 123.37,98.62 123.73,98.57 124.09,98.58 124.45,98.64 124.81,98.76 125.18,98.95 125.54,99.23 125.90,99.60 126.26,100.12 126.62,100.81 126.98,101.72 127.35,102.91 127.71,104.38 128.07,106.04 128.43,107.55 128.79,108.37 129.16,108.11 129.52,106.87 129.88,105.20 130.24,103.55 130.60,102.15 130.96,101.03 131.33,100.17 131.69,99.50 132.05,98.99 132.41,98.58 132.77,98.26 133.13,98.00 133.50,97.80 133.86,97.63 134.22,97.48 134.58,97.37 134.94,97.26 135.31,97.18 135.67,97.11 136.03,97.04 136.39,96.99 136.75,96.94 137.11,96.90 137.48,96.86 137.84,96.83 138.20,96.80 138.56,96.77 138.92,96.75 139.29,96.73 139.65,96.71 140.01,96.69 140.37,96.68 140.73,96.67 141.09,96.65 141.46,96.64 141.82,96.63 142.18,96.63 142.54,96.62 142.90,96.61 143.27,96.61 143.63,96.60 143.99,96.60 144.35,96.60 144.71,96.59 145.07,96.59 145.44,96.59 145.80,96.59 146.16,96.59 146.52,96.60 146.88,96.60 147.25,96.60 147.61,96.61 147.97,96.61 148.33,96.62 148.69,96.63 149.05,96.63 149.42,96.64 149.78,96.65 150.14,96.67 150.50,96.68 150.86,96.69 151.22,96.71 151.59,96.73 151.95,96.75 152.31,96.77 152.67,96.80 153.03,96.83 153.40,96.86 153.76,96.90 154.12,96.94 154.48,96.98 154.84,97.04 155.20,97.10 155.57,97.16 155.93,97.24 156.29,97.33 156.65,97.44 157.01,97.56 157.38,97.70 157.74,97.87 158.10,98.06 158.46,98.30 158.82,98.59 159.18,98.93 159.55,99.36 159.91,99.88 160.27,100.52 160.63,101.30 160.99,102.26 161.36,103.39 161.72,104.68 162.08,106.01 162.44,107.19 162.80,107.93 163.16,108.01 163.53,107.40 163.89,106.30 164.25,104.97 164.61,103.66 164.97,102.49 165.34,101.49 165.70,100.66 166.06,99.99 166.42,99.45 166.78,99.00 167.14,98.64 167.51,98.34 167.87,98.09 168.23,97.88 168.59,97.70 168.95,97.55 169.31,97.43 169.68,97.32 170.04,97.22 170.40,97.14 170.76,97.07 171.12,97.00 171.49,96.94 171.85,96.89 172.21,96.85 172.57,96.81 172.93,96.77 173.29,96.74 173.66,96.71 174.02,96.68 174.38,96.66 174.74,96.64 175.10,96.62 175.47,96.60 175.83,96.58 176.19,96.56 176.55,96.55 176.91,96.54 177.27,96.52 177.64,96.51 178.00,96.50 178.36,96.49"/>
<rect x="26.5" y="12.5" width="157.2" height="113.5" fill="none" stroke="#333" stroke-width="0.9"/>
<line x1="46.60" y1="126.0" x2="46.60" y2="123.8" stroke="#2a2a2a" stroke-width="0.6"/>
<text x="46.60" y="134.10" font-size="6.8" fill="#1a1a1a" stroke="#1a1a1a" stroke-width="0.16" text-anchor="middle" font-family="DejaVu Sans, Liberation Sans, sans-serif" >2.60</text>
<line x1="68.20" y1="126.0" x2="68.20" y2="123.8" stroke="#2a2a2a" stroke-width="0.6"/>
<text x="68.20" y="134.10" font-size="6.8" fill="#1a1a1a" stroke="#1a1a1a" stroke-width="0.16" text-anchor="middle" font-family="DejaVu Sans, Liberation Sans, sans-serif" >2.70</text>
<line x1="89.80" y1="126.0" x2="89.80" y2="123.8" stroke="#2a2a2a" stroke-width="0.6"/>
<text x="89.80" y="134.10" font-size="6.8" fill="#1a1a1a" stroke="#1a1a1a" stroke-width="0.16" text-anchor="middle" font-family="DejaVu Sans, Liberation Sans, sans-serif" >2.80</text>
<line x1="111.40" y1="126.0" x2="111.40" y2="123.8" stroke="#2a2a2a" stroke-width="0.6"/>
<text x="111.40" y="134.10" font-size="6.8" fill="#1a1a1a" stroke="#1a1a1a" stroke-width="0.16" text-anchor="middle" font-family="DejaVu Sans, Liberation Sans, sans-serif" >2.90</text>
<line x1="133.00" y1="126.0" x2="133.00" y2="123.8" stroke="#2a2a2a" stroke-width="0.6"/>
<text x="133.00" y="134.10" font-size="6.8" fill="#1a1a1a" stroke="#1a1a1a" stroke-width="0.16" text-anchor="middle" font-family="DejaVu Sans, Liberation Sans, sans-serif" >3.00</text>
<line x1="154.60" y1="126.0" x2="154.60" y2="123.8" stroke="#2a2a2a" stroke-width="0.6"/>
<text x="154.60" y="134.10" font-size="6.8" fill="#1a1a1a" stroke="#1a1a1a" stroke-width="0.16" text-anchor="middle" font-family="DejaVu Sans, Liberation Sans, sans-serif" >3.10</text>
<line x1="176.20" y1="126.0" x2="176.20" y2="123.8" stroke="#2a2a2a" stroke-width="0.6"/>
<text x="176.20" y="134.10" font-size="6.8" fill="#1a1a1a" stroke="#1a1a1a" stroke-width="0.16" text-anchor="middle" font-family="DejaVu Sans, Liberation Sans, sans-serif" >3.20</text>
<line x1="26.5" y1="120.25" x2="28.7" y2="120.25" stroke="#2a2a2a" stroke-width="0.6"/>
<text x="24.50" y="122.70" font-size="6.8" fill="#1a1a1a" stroke="#1a1a1a" stroke-width="0.16" text-anchor="end" font-family="DejaVu Sans, Liberation Sans, sans-serif" >0.98</text>
<line x1="26.5" y1="96.25" x2="28.7" y2="96.25" stroke="#2a2a2a" stroke-width="0.6"/>
<text x="24.50" y="98.70" font-size="6.8" fill="#1a1a1a" stroke="#1a1a1a" stroke-width="0.16" text-anchor="end" font-family="DejaVu Sans, Liberation Sans, sans-serif" >1.00</text>
<line x1="26.5" y1="72.25" x2="28.7" y2="72.25" stroke="#2a2a2a" stroke-width="0.6"/>
<text x="24.50" y="74.70" font-size="6.8" fill="#1a1a1a" stroke="#1a1a1a" stroke-width="0.16" text-anchor="end" font-family="DejaVu Sans, Liberation Sans, sans-serif" >1.02</text>
<line x1="26.5" y1="48.25" x2="28.7" y2="48.25" stroke="#2a2a2a" stroke-width="0.6"/>
<text x="24.50" y="50.70" font-size="6.8" fill="#1a1a1a" stroke="#1a1a1a" stroke-width="0.16" text-anchor="end" font-family="DejaVu Sans, Liberation Sans, sans-serif" >1.04</text>
<line x1="26.5" y1="24.25" x2="28.7" y2="24.25" stroke="#2a2a2a" stroke-width="0.6"/>
<text x="24.50" y="26.70" font-size="6.8" fill="#1a1a1a" stroke="#1a1a1a" stroke-width="0.16" text-anchor="end" font-family="DejaVu Sans, Liberation Sans, sans-serif" >1.06</text>
<text x="105.20" y="142.00" font-size="6.6" fill="#1a1a1a" stroke="#1a1a1a" stroke-width="0.16" text-anchor="middle" font-family="DejaVu Sans, Liberation Sans, sans-serif" >Frequency (GHz)</text>
<text transform="translate(5.9,68.2) rotate(-90)" font-size="6.6" fill="#1a1a1a" text-anchor="middle" font-family="DejaVu Sans, Liberation Sans, sans-serif">Norm. Intensity</text>
<text x="176.80" y="20.80" font-size="6.6" fill="#1a1a1a" stroke="#1a1a1a" stroke-width="0.16" text-anchor="end" font-family="DejaVu Sans, Liberation Sans, sans-serif" >180mA</text>
<text x="176.80" y="44.80" font-size="6.6" fill="#1a1a1a" stroke="#1a1a1a" stroke-width="0.16" text-anchor="end" font-family="DejaVu Sans, Liberation Sans, sans-serif" >130mA</text>
<text x="176.80" y="69.00" font-size="6.6" fill="#1a1a1a" stroke="#1a1a1a" stroke-width="0.16" text-anchor="end" font-family="DejaVu Sans, Liberation Sans, sans-serif" >60mA</text>
<text x="176.80" y="92.00" font-size="6.6" fill="#1a1a1a" stroke="#1a1a1a" stroke-width="0.16" text-anchor="end" font-family="DejaVu Sans, Liberation Sans, sans-serif" >0mA</text>
<text x="52.8" y="118.8" font-size="6.2" fill="#3a8fa0" text-anchor="middle" font-family="DejaVu Sans, Liberation Sans, sans-serif">NV<tspan font-size="4.3" dy="1.2">1</tspan></text>
<text x="98.5" y="118.8" font-size="6.2" fill="#f0b040" text-anchor="middle" font-family="DejaVu Sans, Liberation Sans, sans-serif">NV<tspan font-size="4.3" dy="1.2">2</tspan></text>
<text x="116.8" y="118.8" font-size="6.2" fill="#8a22c8" text-anchor="middle" font-family="DejaVu Sans, Liberation Sans, sans-serif">NV<tspan font-size="4.3" dy="1.2">3</tspan></text>
<text x="132.3" y="118.8" font-size="6.2" fill="#f0b040" text-anchor="middle" font-family="DejaVu Sans, Liberation Sans, sans-serif">NV<tspan font-size="4.3" dy="1.2">2</tspan></text>
<text x="165.2" y="118.8" font-size="6.2" fill="#3a8fa0" text-anchor="middle" font-family="DejaVu Sans, Liberation Sans, sans-serif">NV<tspan font-size="4.3" dy="1.2">1</tspan></text>
</g>
<g id="pb">
<text x="11.60" y="157.50" font-size="9.0" fill="#111" stroke="#111" stroke-width="0.16" text-anchor="start" font-family="Liberation Sans, sans-serif" >(b)</text>
<line x1="33.50" y1="185.38" x2="176.24" y2="168.49" stroke="#a51fb0" stroke-width="1.1"/>
<g stroke="#a51fb0" stroke-width="1.0"><line x1="33.50" y1="184.37" x2="33.50" y2="187.39"/><line x1="30.70" y1="184.37" x2="36.30" y2="184.37"/><line x1="30.70" y1="187.39" x2="36.30" y2="187.39"/></g>
<path d="M31.00,187.78 L36.00,187.78 L33.50,183.48 Z" fill="#a51fb0"/>
<g stroke="#a51fb0" stroke-width="1.0"><line x1="57.29" y1="179.20" x2="57.29" y2="181.97"/><line x1="54.49" y1="179.20" x2="60.09" y2="179.20"/><line x1="54.49" y1="181.97" x2="60.09" y2="181.97"/></g>
<path d="M54.79,182.49 L59.79,182.49 L57.29,178.19 Z" fill="#a51fb0"/>
<g stroke="#a51fb0" stroke-width="1.0"><line x1="81.08" y1="178.32" x2="81.08" y2="180.84"/><line x1="78.28" y1="178.32" x2="83.88" y2="178.32"/><line x1="78.28" y1="180.84" x2="83.88" y2="180.84"/></g>
<path d="M78.58,181.48 L83.58,181.48 L81.08,177.18 Z" fill="#a51fb0"/>
<g stroke="#a51fb0" stroke-width="1.0"><line x1="104.87" y1="176.93" x2="104.87" y2="179.20"/><line x1="102.07" y1="176.93" x2="107.67" y2="176.93"/><line x1="102.07" y1="179.20" x2="107.67" y2="179.20"/></g>
<path d="M102.37,179.97 L107.37,179.97 L104.87,175.67 Z" fill="#a51fb0"/>
<g stroke="#a51fb0" stroke-width="1.0"><line x1="136.59" y1="171.64" x2="136.59" y2="173.66"/><line x1="133.79" y1="171.64" x2="139.39" y2="171.64"/><line x1="133.79" y1="173.66" x2="139.39" y2="173.66"/></g>
<path d="M134.09,174.55 L139.09,174.55 L136.59,170.25 Z" fill="#a51fb0"/>
<g stroke="#a51fb0" stroke-width="1.0"><line x1="176.24" y1="167.11" x2="176.24" y2="169.37"/><line x1="173.44" y1="167.11" x2="179.04" y2="167.11"/><line x1="173.44" y1="169.37" x2="179.04" y2="169.37"/></g>
<path d="M173.74,170.14 L178.74,170.14 L176.24,165.84 Z" fill="#a51fb0"/>
<line x1="33.50" y1="227.00" x2="176.24" y2="215.00" stroke="#ecb534" stroke-width="1.1"/>
<g stroke="#ecb534" stroke-width="1.0"><line x1="33.50" y1="226.80" x2="33.50" y2="229.60"/><line x1="30.70" y1="226.80" x2="36.30" y2="226.80"/><line x1="30.70" y1="229.60" x2="36.30" y2="229.60"/></g>
<rect x="31.20" y="225.90" width="4.6" height="4.6" fill="#ecb534"/>
<g stroke="#ecb534" stroke-width="1.0"><line x1="57.29" y1="220.20" x2="57.29" y2="223.40"/><line x1="54.49" y1="220.20" x2="60.09" y2="220.20"/><line x1="54.49" y1="223.40" x2="60.09" y2="223.40"/></g>
<rect x="54.99" y="219.50" width="4.6" height="4.6" fill="#ecb534"/>
<g stroke="#ecb534" stroke-width="1.0"><line x1="81.08" y1="221.40" x2="81.08" y2="224.20"/><line x1="78.28" y1="221.40" x2="83.88" y2="221.40"/><line x1="78.28" y1="224.20" x2="83.88" y2="224.20"/></g>
<rect x="78.78" y="220.50" width="4.6" height="4.6" fill="#ecb534"/>
<g stroke="#ecb534" stroke-width="1.0"><line x1="104.87" y1="218.80" x2="104.87" y2="221.20"/><line x1="102.07" y1="218.80" x2="107.67" y2="218.80"/><line x1="102.07" y1="221.20" x2="107.67" y2="221.20"/></g>
<rect x="102.57" y="217.70" width="4.6" height="4.6" fill="#ecb534"/>
<g stroke="#ecb534" stroke-width="1.0"><line x1="136.59" y1="217.10" x2="136.59" y2="219.50"/><line x1="133.79" y1="217.10" x2="139.39" y2="217.10"/><line x1="133.79" y1="219.50" x2="139.39" y2="219.50"/></g>
<rect x="134.29" y="216.00" width="4.6" height="4.6" fill="#ecb534"/>
<g stroke="#ecb534" stroke-width="1.0"><line x1="176.24" y1="213.60" x2="176.24" y2="216.40"/><line x1="173.44" y1="213.60" x2="179.04" y2="213.60"/><line x1="173.44" y1="216.40" x2="179.04" y2="216.40"/></g>
<rect x="173.94" y="212.70" width="4.6" height="4.6" fill="#ecb534"/>
<line x1="33.50" y1="257.97" x2="176.24" y2="274.20" stroke="#1f7d93" stroke-width="1.1"/>
<g stroke="#1f7d93" stroke-width="1.0"><line x1="33.50" y1="256.78" x2="33.50" y2="259.42"/><line x1="30.70" y1="256.78" x2="36.30" y2="256.78"/><line x1="30.70" y1="259.42" x2="36.30" y2="259.42"/></g>
<circle cx="33.50" cy="258.10" r="2.3" fill="#1f7d93"/>
<g stroke="#1f7d93" stroke-width="1.0"><line x1="57.29" y1="259.55" x2="57.29" y2="261.93"/><line x1="54.49" y1="259.55" x2="60.09" y2="259.55"/><line x1="54.49" y1="261.93" x2="60.09" y2="261.93"/></g>
<circle cx="57.29" cy="260.74" r="2.3" fill="#1f7d93"/>
<g stroke="#1f7d93" stroke-width="1.0"><line x1="81.08" y1="263.78" x2="81.08" y2="266.42"/><line x1="78.28" y1="263.78" x2="83.88" y2="263.78"/><line x1="78.28" y1="266.42" x2="83.88" y2="266.42"/></g>
<circle cx="81.08" cy="265.10" r="2.3" fill="#1f7d93"/>
<g stroke="#1f7d93" stroke-width="1.0"><line x1="104.87" y1="265.49" x2="104.87" y2="267.87"/><line x1="102.07" y1="265.49" x2="107.67" y2="265.49"/><line x1="102.07" y1="267.87" x2="107.67" y2="267.87"/></g>
<circle cx="104.87" cy="266.68" r="2.3" fill="#1f7d93"/>
<g stroke="#1f7d93" stroke-width="1.0"><line x1="136.59" y1="268.92" x2="136.59" y2="271.04"/><line x1="133.79" y1="268.92" x2="139.39" y2="268.92"/><line x1="133.79" y1="271.04" x2="139.39" y2="271.04"/></g>
<circle cx="136.59" cy="269.98" r="2.3" fill="#1f7d93"/>
<g stroke="#1f7d93" stroke-width="1.0"><line x1="176.24" y1="273.41" x2="176.24" y2="275.79"/><line x1="173.44" y1="273.41" x2="179.04" y2="273.41"/><line x1="173.44" y1="275.79" x2="179.04" y2="275.79"/></g>
<circle cx="176.24" cy="274.60" r="2.3" fill="#1f7d93"/>
<path d="M26.2,277.7 L26.2,164.9 L184.0,164.9 L184.0,277.7 Z" fill="none" stroke="#333" stroke-width="0.9"/>
<rect x="25.0" y="200.20000000000002" width="2.4" height="8.199999999999983" fill="#fff"/>
<line x1="20.30" y1="202.10" x2="32.10" y2="198.70" stroke="#222" stroke-width="0.8"/>
<line x1="20.30" y1="209.90" x2="32.10" y2="206.50" stroke="#222" stroke-width="0.8"/>
<rect x="182.8" y="200.20000000000002" width="2.4" height="8.199999999999983" fill="#fff"/>
<line x1="178.10" y1="202.10" x2="189.90" y2="198.70" stroke="#222" stroke-width="0.8"/>
<line x1="178.10" y1="209.90" x2="189.90" y2="206.50" stroke="#222" stroke-width="0.8"/>
<rect x="25.0" y="243.20000000000002" width="2.4" height="7.499999999999995" fill="#fff"/>
<line x1="20.30" y1="245.10" x2="32.10" y2="241.70" stroke="#222" stroke-width="0.8"/>
<line x1="20.30" y1="252.20" x2="32.10" y2="248.80" stroke="#222" stroke-width="0.8"/>
<rect x="182.8" y="243.20000000000002" width="2.4" height="7.499999999999995" fill="#fff"/>
<line x1="178.10" y1="245.10" x2="189.90" y2="241.70" stroke="#222" stroke-width="0.8"/>
<line x1="178.10" y1="252.20" x2="189.90" y2="248.80" stroke="#222" stroke-width="0.8"/>
<line x1="33.50" y1="277.7" x2="33.50" y2="275.5" stroke="#333" stroke-width="0.7"/>
<line x1="33.50" y1="164.9" x2="33.50" y2="167.1" stroke="#333" stroke-width="0.7"/>
<text x="33.50" y="285.70" font-size="6.8" fill="#1a1a1a" stroke="#1a1a1a" stroke-width="0.16" text-anchor="middle" font-family="DejaVu Sans, Liberation Sans, sans-serif" >0</text>
<line x1="53.33" y1="277.7" x2="53.33" y2="275.5" stroke="#333" stroke-width="0.7"/>
<line x1="53.33" y1="164.9" x2="53.33" y2="167.1" stroke="#333" stroke-width="0.7"/>
<text x="53.33" y="285.70" font-size="6.8" fill="#1a1a1a" stroke="#1a1a1a" stroke-width="0.16" text-anchor="middle" font-family="DejaVu Sans, Liberation Sans, sans-serif" >25</text>
<line x1="73.15" y1="277.7" x2="73.15" y2="275.5" stroke="#333" stroke-width="0.7"/>
<line x1="73.15" y1="164.9" x2="73.15" y2="167.1" stroke="#333" stroke-width="0.7"/>
<text x="73.15" y="285.70" font-size="6.8" fill="#1a1a1a" stroke="#1a1a1a" stroke-width="0.16" text-anchor="middle" font-family="DejaVu Sans, Liberation Sans, sans-serif" >50</text>
<line x1="92.97" y1="277.7" x2="92.97" y2="275.5" stroke="#333" stroke-width="0.7"/>
<line x1="92.97" y1="164.9" x2="92.97" y2="167.1" stroke="#333" stroke-width="0.7"/>
<text x="92.97" y="285.70" font-size="6.8" fill="#1a1a1a" stroke="#1a1a1a" stroke-width="0.16" text-anchor="middle" font-family="DejaVu Sans, Liberation Sans, sans-serif" >75</text>
<line x1="112.80" y1="277.7" x2="112.80" y2="275.5" stroke="#333" stroke-width="0.7"/>
<line x1="112.80" y1="164.9" x2="112.80" y2="167.1" stroke="#333" stroke-width="0.7"/>
<text x="112.80" y="285.70" font-size="6.8" fill="#1a1a1a" stroke="#1a1a1a" stroke-width="0.16" text-anchor="middle" font-family="DejaVu Sans, Liberation Sans, sans-serif" >100</text>
<line x1="132.62" y1="277.7" x2="132.62" y2="275.5" stroke="#333" stroke-width="0.7"/>
<line x1="132.62" y1="164.9" x2="132.62" y2="167.1" stroke="#333" stroke-width="0.7"/>
<text x="132.62" y="285.70" font-size="6.8" fill="#1a1a1a" stroke="#1a1a1a" stroke-width="0.16" text-anchor="middle" font-family="DejaVu Sans, Liberation Sans, sans-serif" >125</text>
<line x1="152.45" y1="277.7" x2="152.45" y2="275.5" stroke="#333" stroke-width="0.7"/>
<line x1="152.45" y1="164.9" x2="152.45" y2="167.1" stroke="#333" stroke-width="0.7"/>
<text x="152.45" y="285.70" font-size="6.8" fill="#1a1a1a" stroke="#1a1a1a" stroke-width="0.16" text-anchor="middle" font-family="DejaVu Sans, Liberation Sans, sans-serif" >150</text>
<line x1="172.28" y1="277.7" x2="172.28" y2="275.5" stroke="#333" stroke-width="0.7"/>
<line x1="172.28" y1="164.9" x2="172.28" y2="167.1" stroke="#333" stroke-width="0.7"/>
<text x="172.28" y="285.70" font-size="6.8" fill="#1a1a1a" stroke="#1a1a1a" stroke-width="0.16" text-anchor="middle" font-family="DejaVu Sans, Liberation Sans, sans-serif" >175</text>
<line x1="26.2" y1="169.50" x2="28.4" y2="169.50" stroke="#333" stroke-width="0.7"/>
<text x="24.20" y="171.95" font-size="6.8" fill="#1a1a1a" stroke="#1a1a1a" stroke-width="0.16" text-anchor="end" font-family="DejaVu Sans, Liberation Sans, sans-serif" >2.90</text>
<line x1="26.2" y1="182.10" x2="28.4" y2="182.10" stroke="#333" stroke-width="0.7"/>
<text x="24.20" y="184.55" font-size="6.8" fill="#1a1a1a" stroke="#1a1a1a" stroke-width="0.16" text-anchor="end" font-family="DejaVu Sans, Liberation Sans, sans-serif" >2.89</text>
<line x1="26.2" y1="212.00" x2="28.4" y2="212.00" stroke="#333" stroke-width="0.7"/>
<text x="24.20" y="214.45" font-size="6.8" fill="#1a1a1a" stroke="#1a1a1a" stroke-width="0.16" text-anchor="end" font-family="DejaVu Sans, Liberation Sans, sans-serif" >2.85</text>
<line x1="26.2" y1="222.00" x2="28.4" y2="222.00" stroke="#333" stroke-width="0.7"/>
<text x="24.20" y="224.45" font-size="6.8" fill="#1a1a1a" stroke="#1a1a1a" stroke-width="0.16" text-anchor="end" font-family="DejaVu Sans, Liberation Sans, sans-serif" >2.84</text>
<line x1="26.2" y1="232.00" x2="28.4" y2="232.00" stroke="#333" stroke-width="0.7"/>
<text x="24.20" y="234.45" font-size="6.8" fill="#1a1a1a" stroke="#1a1a1a" stroke-width="0.16" text-anchor="end" font-family="DejaVu Sans, Liberation Sans, sans-serif" >2.83</text>
<line x1="26.2" y1="261.40" x2="28.4" y2="261.40" stroke="#333" stroke-width="0.7"/>
<text x="24.20" y="263.85" font-size="6.8" fill="#1a1a1a" stroke="#1a1a1a" stroke-width="0.16" text-anchor="end" font-family="DejaVu Sans, Liberation Sans, sans-serif" >2.62</text>
<line x1="26.2" y1="274.60" x2="28.4" y2="274.60" stroke="#333" stroke-width="0.7"/>
<text x="24.20" y="277.05" font-size="6.8" fill="#1a1a1a" stroke="#1a1a1a" stroke-width="0.16" text-anchor="end" font-family="DejaVu Sans, Liberation Sans, sans-serif" >2.61</text>
<text x="105.20" y="294.00" font-size="6.6" fill="#1a1a1a" stroke="#1a1a1a" stroke-width="0.16" text-anchor="middle" font-family="DejaVu Sans, Liberation Sans, sans-serif" >Current (mA)</text>
<text transform="translate(5.6,219.6) rotate(-90)" font-size="6.6" fill="#1a1a1a" text-anchor="middle" font-family="DejaVu Sans, Liberation Sans, sans-serif">Frequency (GHz)</text>
<text x="48.5" y="194.6" font-size="7.2" fill="#a51fb0" text-anchor="start" font-family="DejaVu Sans, Liberation Sans, sans-serif">α<tspan font-size="5.0" dy="1.3">3</tspan><tspan dy="-1.3"> = 74 ± 6.4 kHz</tspan></text>
<text x="48.5" y="214.6" font-size="7.2" fill="#efbd3c" text-anchor="start" font-family="DejaVu Sans, Liberation Sans, sans-serif">α<tspan font-size="5.0" dy="1.3">2</tspan><tspan dy="-1.3"> = 66 ± 9.5 kHz</tspan></text>
<text x="47.5" y="254.0" font-size="7.2" fill="#1f7d93" text-anchor="start" font-family="DejaVu Sans, Liberation Sans, sans-serif">α<tspan font-size="5.0" dy="1.3">1</tspan><tspan dy="-1.3"> = -68 ± 5.4 kHz</tspan></text>
</g>
<g id="pc">
<text x="211.50" y="7.60" font-size="9.0" fill="#111" stroke="#111" stroke-width="0.16" text-anchor="start" font-family="Liberation Sans, sans-serif" >(c)</text>
<circle cx="297.7" cy="78.0" r="12.10" fill="none" stroke="#b6bac4" stroke-width="0.7"/>
<circle cx="297.7" cy="78.0" r="24.20" fill="none" stroke="#b6bac4" stroke-width="0.7"/>
<circle cx="297.7" cy="78.0" r="36.30" fill="none" stroke="#b6bac4" stroke-width="0.7"/>
<circle cx="297.7" cy="78.0" r="48.40" fill="none" stroke="#b6bac4" stroke-width="0.7"/>
<g fill="#6fb2d4" fill-opacity="0.8"><circle cx="297.7" cy="42.5" r="1.8"/><circle cx="300.9" cy="41.0" r="1.8"/><circle cx="304.2" cy="41.1" r="1.8"/><circle cx="307.5" cy="41.4" r="1.8"/><circle cx="311.4" cy="40.5" r="1.8"/><circle cx="314.6" cy="41.8" r="1.8"/><circle cx="318.0" cy="42.9" r="1.8"/><circle cx="323.1" cy="41.7" r="1.8"/><circle cx="326.5" cy="43.7" r="1.8"/><circle cx="331.4" cy="44.3" r="1.8"/><circle cx="333.4" cy="48.1" r="1.8"/><circle cx="335.1" cy="51.8" r="1.8"/><circle cx="339.2" cy="54.0" r="1.8"/><circle cx="344.2" cy="56.3" r="1.8"/><circle cx="344.4" cy="61.0" r="1.8"/><circle cx="345.2" cy="65.3" r="1.8"/><circle cx="347.6" cy="69.2" r="1.8"/><circle cx="350.7" cy="73.4" r="1.8"/><circle cx="351.7" cy="78.0" r="1.8"/><circle cx="350.5" cy="82.6" r="1.8"/><circle cx="350.0" cy="87.2" r="1.8"/><circle cx="346.6" cy="91.1" r="1.8"/><circle cx="342.5" cy="94.3" r="1.8"/><circle cx="339.2" cy="97.3" r="1.8"/><circle cx="336.2" cy="100.3" r="1.8"/><circle cx="331.9" cy="101.9" r="1.8"/><circle cx="328.3" cy="103.7" r="1.8"/><circle cx="323.1" cy="103.4" r="1.8"/><circle cx="320.5" cy="105.1" r="1.8"/><circle cx="317.8" cy="106.7" r="1.8"/><circle cx="314.2" cy="106.6" r="1.8"/><circle cx="312.1" cy="108.8" r="1.8"/><circle cx="309.1" cy="109.2" r="1.8"/><circle cx="306.4" cy="110.4" r="1.8"/><circle cx="303.3" cy="110.0" r="1.8"/><circle cx="300.8" cy="113.7" r="1.8"/><circle cx="297.7" cy="112.9" r="1.8"/><circle cx="294.7" cy="112.0" r="1.8"/><circle cx="291.5" cy="113.0" r="1.8"/><circle cx="287.5" cy="116.1" r="1.8"/><circle cx="284.9" cy="113.2" r="1.8"/><circle cx="280.8" cy="114.3" r="1.8"/><circle cx="277.0" cy="113.9" r="1.8"/><circle cx="273.7" cy="112.3" r="1.8"/><circle cx="270.6" cy="110.3" r="1.8"/><circle cx="265.6" cy="110.1" r="1.8"/><circle cx="261.2" cy="108.6" r="1.8"/><circle cx="256.3" cy="107.0" r="1.8"/><circle cx="252.6" cy="104.1" r="1.8"/><circle cx="249.7" cy="100.4" r="1.8"/><circle cx="245.8" cy="96.9" r="1.8"/><circle cx="243.9" cy="92.4" r="1.8"/><circle cx="242.8" cy="87.7" r="1.8"/><circle cx="242.1" cy="82.9" r="1.8"/><circle cx="242.1" cy="78.0" r="1.8"/><circle cx="241.5" cy="73.1" r="1.8"/><circle cx="245.2" cy="68.7" r="1.8"/><circle cx="247.7" cy="64.6" r="1.8"/><circle cx="250.6" cy="60.8" r="1.8"/><circle cx="256.1" cy="58.6" r="1.8"/><circle cx="259.3" cy="55.8" r="1.8"/><circle cx="264.8" cy="55.0" r="1.8"/><circle cx="267.4" cy="52.6" r="1.8"/><circle cx="270.1" cy="50.4" r="1.8"/><circle cx="273.6" cy="49.3" r="1.8"/><circle cx="277.3" cy="48.9" r="1.8"/><circle cx="280.6" cy="48.4" r="1.8"/><circle cx="284.1" cy="48.8" r="1.8"/><circle cx="285.6" cy="44.8" r="1.8"/><circle cx="289.0" cy="45.3" r="1.8"/><circle cx="291.7" cy="43.8" r="1.8"/><circle cx="294.8" cy="44.8" r="1.8"/></g>
<g fill="#f3c766" fill-opacity="0.8"><circle cx="297.7" cy="61.9" r="1.8"/><circle cx="298.8" cy="65.6" r="1.8"/><circle cx="300.0" cy="65.0" r="1.8"/><circle cx="300.6" cy="67.0" r="1.8"/><circle cx="299.9" cy="72.0" r="1.8"/><circle cx="300.4" cy="72.1" r="1.8"/><circle cx="300.4" cy="73.2" r="1.8"/><circle cx="298.5" cy="76.9" r="1.8"/><circle cx="297.9" cy="77.8" r="1.8"/><circle cx="297.9" cy="77.8" r="1.8"/><circle cx="298.2" cy="77.6" r="1.8"/><circle cx="298.3" cy="77.6" r="1.8"/><circle cx="300.8" cy="76.2" r="1.8"/><circle cx="302.5" cy="75.8" r="1.8"/><circle cx="304.7" cy="75.5" r="1.8"/><circle cx="306.8" cy="75.6" r="1.8"/><circle cx="309.7" cy="75.9" r="1.8"/><circle cx="311.4" cy="76.8" r="1.8"/><circle cx="310.7" cy="78.0" r="1.8"/><circle cx="313.4" cy="79.4" r="1.8"/><circle cx="314.4" cy="80.9" r="1.8"/><circle cx="315.7" cy="82.8" r="1.8"/><circle cx="317.6" cy="85.3" r="1.8"/><circle cx="318.2" cy="87.5" r="1.8"/><circle cx="318.6" cy="90.1" r="1.8"/><circle cx="316.3" cy="91.1" r="1.8"/><circle cx="315.9" cy="93.2" r="1.8"/><circle cx="315.6" cy="95.9" r="1.8"/><circle cx="313.9" cy="97.3" r="1.8"/><circle cx="311.9" cy="98.3" r="1.8"/><circle cx="310.0" cy="99.3" r="1.8"/><circle cx="307.4" cy="98.9" r="1.8"/><circle cx="305.8" cy="100.2" r="1.8"/><circle cx="303.4" cy="99.2" r="1.8"/><circle cx="301.2" cy="97.7" r="1.8"/><circle cx="299.2" cy="95.7" r="1.8"/><circle cx="297.7" cy="94.5" r="1.8"/><circle cx="296.7" cy="89.8" r="1.8"/><circle cx="295.6" cy="89.7" r="1.8"/><circle cx="294.9" cy="88.6" r="1.8"/><circle cx="295.2" cy="84.9" r="1.8"/><circle cx="294.6" cy="84.7" r="1.8"/><circle cx="294.9" cy="82.8" r="1.8"/><circle cx="296.4" cy="79.9" r="1.8"/><circle cx="296.3" cy="79.7" r="1.8"/><circle cx="296.9" cy="78.8" r="1.8"/><circle cx="296.0" cy="79.4" r="1.8"/><circle cx="294.9" cy="80.0" r="1.8"/><circle cx="294.1" cy="80.1" r="1.8"/><circle cx="293.3" cy="80.1" r="1.8"/><circle cx="290.7" cy="80.6" r="1.8"/><circle cx="288.5" cy="80.5" r="1.8"/><circle cx="285.5" cy="80.2" r="1.8"/><circle cx="283.8" cy="79.2" r="1.8"/><circle cx="282.9" cy="78.0" r="1.8"/><circle cx="281.8" cy="76.6" r="1.8"/><circle cx="279.1" cy="74.7" r="1.8"/><circle cx="278.3" cy="72.8" r="1.8"/><circle cx="277.8" cy="70.8" r="1.8"/><circle cx="276.4" cy="68.1" r="1.8"/><circle cx="276.9" cy="66.0" r="1.8"/><circle cx="276.9" cy="63.4" r="1.8"/><circle cx="277.5" cy="61.0" r="1.8"/><circle cx="279.6" cy="59.9" r="1.8"/><circle cx="279.4" cy="56.2" r="1.8"/><circle cx="283.2" cy="57.4" r="1.8"/><circle cx="284.6" cy="55.4" r="1.8"/><circle cx="287.5" cy="56.1" r="1.8"/><circle cx="289.5" cy="55.4" r="1.8"/><circle cx="292.8" cy="59.7" r="1.8"/><circle cx="294.4" cy="59.2" r="1.8"/><circle cx="296.1" cy="59.6" r="1.8"/></g>
<g fill="#c069d8" fill-opacity="0.8"><circle cx="297.7" cy="52.7" r="1.8"/><circle cx="300.2" cy="50.0" r="1.8"/><circle cx="302.3" cy="51.8" r="1.8"/><circle cx="304.9" cy="51.0" r="1.8"/><circle cx="307.1" cy="52.2" r="1.8"/><circle cx="309.3" cy="53.2" r="1.8"/><circle cx="310.8" cy="55.2" r="1.8"/><circle cx="311.9" cy="57.8" r="1.8"/><circle cx="313.3" cy="59.4" r="1.8"/><circle cx="312.7" cy="63.0" r="1.8"/><circle cx="314.6" cy="63.8" r="1.8"/><circle cx="312.3" cy="67.8" r="1.8"/><circle cx="312.7" cy="69.4" r="1.8"/><circle cx="313.4" cy="70.7" r="1.8"/><circle cx="309.6" cy="73.7" r="1.8"/><circle cx="308.2" cy="75.2" r="1.8"/><circle cx="307.6" cy="76.3" r="1.8"/><circle cx="304.6" cy="77.4" r="1.8"/><circle cx="301.9" cy="78.0" r="1.8"/><circle cx="301.5" cy="78.3" r="1.8"/><circle cx="300.6" cy="78.5" r="1.8"/><circle cx="299.8" cy="78.6" r="1.8"/><circle cx="299.8" cy="78.8" r="1.8"/><circle cx="301.2" cy="79.6" r="1.8"/><circle cx="300.4" cy="79.5" r="1.8"/><circle cx="299.0" cy="78.9" r="1.8"/><circle cx="299.9" cy="79.8" r="1.8"/><circle cx="300.1" cy="80.4" r="1.8"/><circle cx="302.2" cy="83.4" r="1.8"/><circle cx="301.5" cy="83.4" r="1.8"/><circle cx="302.8" cy="86.8" r="1.8"/><circle cx="302.3" cy="87.9" r="1.8"/><circle cx="302.1" cy="90.1" r="1.8"/><circle cx="302.0" cy="94.0" r="1.8"/><circle cx="301.0" cy="97.0" r="1.8"/><circle cx="299.4" cy="97.7" r="1.8"/><circle cx="297.7" cy="98.8" r="1.8"/><circle cx="295.6" cy="101.9" r="1.8"/><circle cx="293.5" cy="102.1" r="1.8"/><circle cx="291.0" cy="103.1" r="1.8"/><circle cx="288.1" cy="104.4" r="1.8"/><circle cx="285.8" cy="103.6" r="1.8"/><circle cx="284.4" cy="101.1" r="1.8"/><circle cx="280.7" cy="102.3" r="1.8"/><circle cx="280.5" cy="98.5" r="1.8"/><circle cx="278.7" cy="97.0" r="1.8"/><circle cx="279.1" cy="93.6" r="1.8"/><circle cx="278.3" cy="91.6" r="1.8"/><circle cx="280.1" cy="88.2" r="1.8"/><circle cx="277.4" cy="87.5" r="1.8"/><circle cx="278.8" cy="84.9" r="1.8"/><circle cx="283.0" cy="81.9" r="1.8"/><circle cx="285.1" cy="80.2" r="1.8"/><circle cx="287.2" cy="78.9" r="1.8"/><circle cx="286.2" cy="78.0" r="1.8"/><circle cx="290.1" cy="77.3" r="1.8"/><circle cx="291.6" cy="76.9" r="1.8"/><circle cx="293.7" cy="76.9" r="1.8"/><circle cx="296.6" cy="77.6" r="1.8"/><circle cx="296.9" cy="77.6" r="1.8"/><circle cx="294.8" cy="76.4" r="1.8"/><circle cx="295.1" cy="76.2" r="1.8"/><circle cx="292.8" cy="73.9" r="1.8"/><circle cx="291.5" cy="71.8" r="1.8"/><circle cx="290.7" cy="69.6" r="1.8"/><circle cx="290.7" cy="68.0" r="1.8"/><circle cx="290.9" cy="66.2" r="1.8"/><circle cx="290.6" cy="62.8" r="1.8"/><circle cx="291.5" cy="61.0" r="1.8"/><circle cx="292.0" cy="56.7" r="1.8"/><circle cx="293.7" cy="55.5" r="1.8"/><circle cx="295.7" cy="54.7" r="1.8"/></g>
<polyline fill="none" stroke="#1f7d93" stroke-width="2.0" stroke-linejoin="round" points="297.70,42.91 298.01,42.82 298.32,42.74 298.63,42.66 298.94,42.58 299.25,42.50 299.56,42.43 299.88,42.36 300.20,42.29 300.52,42.22 300.84,42.15 301.16,42.09 301.48,42.03 301.81,41.97 302.13,41.91 302.46,41.85 302.79,41.80 303.12,41.74 303.45,41.69 303.78,41.64 304.12,41.59 304.46,41.55 304.79,41.50 305.13,41.46 305.48,41.42 305.82,41.37 306.17,41.33 306.51,41.29 306.86,41.26 307.21,41.22 307.56,41.18 307.92,41.15 308.28,41.12 308.63,41.09 308.99,41.06 309.36,41.03 309.72,41.00 310.09,40.98 310.45,40.96 310.82,40.94 311.20,40.92 311.57,40.90 311.95,40.89 312.32,40.88 312.70,40.87 313.08,40.86 313.47,40.85 313.85,40.85 314.24,40.85 314.63,40.85 315.02,40.86 315.41,40.86 315.81,40.87 316.20,40.89 316.60,40.90 317.00,40.92 317.40,40.94 317.81,40.97 318.21,41.00 318.62,41.03 319.02,41.07 319.43,41.11 319.84,41.16 320.25,41.21 320.66,41.26 321.07,41.32 321.48,41.39 321.89,41.46 322.30,41.54 322.70,41.62 323.11,41.71 323.52,41.80 323.93,41.90 324.33,42.01 324.74,42.12 325.14,42.24 325.54,42.37 325.94,42.50 326.33,42.64 326.72,42.79 327.11,42.95 327.50,43.11 327.89,43.27 328.27,43.45 328.65,43.63 329.02,43.82 329.40,44.01 329.77,44.21 330.13,44.42 330.50,44.63 330.86,44.84 331.21,45.07 331.57,45.29 331.92,45.53 332.27,45.77 332.61,46.01 332.95,46.26 333.29,46.51 333.63,46.77 333.96,47.03 334.29,47.30 334.61,47.57 334.93,47.85 335.25,48.13 335.57,48.41 335.88,48.70 336.19,48.99 336.50,49.29 336.80,49.59 337.10,49.89 337.40,50.20 337.69,50.51 337.99,50.83 338.27,51.14 338.56,51.47 338.84,51.79 339.12,52.12 339.39,52.45 339.67,52.78 339.93,53.12 340.20,53.46 340.46,53.81 340.72,54.15 340.98,54.50 341.23,54.85 341.48,55.21 341.72,55.57 341.97,55.93 342.21,56.29 342.44,56.66 342.67,57.03 342.90,57.40 343.13,57.77 343.35,58.15 343.57,58.53 343.78,58.91 344.00,59.30 344.20,59.68 344.41,60.07 344.61,60.46 344.81,60.85 345.01,61.25 345.20,61.64 345.39,62.04 345.58,62.44 345.76,62.85 345.94,63.25 346.12,63.66 346.30,64.06 346.48,64.47 346.65,64.88 346.83,65.29 347.00,65.71 347.18,66.12 347.35,66.54 347.52,66.95 347.69,67.37 347.87,67.79 348.04,68.21 348.21,68.64 348.39,69.06 348.57,69.49 348.74,69.92 348.92,70.34 349.10,70.78 349.29,71.21 349.47,71.64 349.65,72.08 349.83,72.52 350.01,72.96 350.18,73.41 350.34,73.86 350.49,74.31 350.63,74.76 350.76,75.22 350.87,75.68 350.97,76.14 351.06,76.60 351.12,77.07 351.16,77.53 351.18,78.00 351.18,78.47 351.15,78.93 351.11,79.40 351.04,79.86 350.96,80.33 350.86,80.79 350.74,81.24 350.61,81.70 350.47,82.15 350.32,82.60 350.16,83.05 349.99,83.50 349.81,83.94 349.62,84.38 349.44,84.81 349.24,85.24 349.04,85.67 348.84,86.10 348.63,86.52 348.41,86.94 348.19,87.36 347.96,87.77 347.72,88.18 347.48,88.58 347.22,88.98 346.96,89.37 346.70,89.76 346.42,90.15 346.14,90.53 345.85,90.90 345.55,91.27 345.24,91.63 344.92,91.99 344.60,92.34 344.26,92.68 343.92,93.02 343.57,93.35 343.21,93.67 342.84,93.99 342.47,94.30 342.10,94.60 341.72,94.90 341.33,95.19 340.94,95.47 340.55,95.75 340.16,96.02 339.76,96.29 339.37,96.55 338.97,96.81 338.57,97.06 338.17,97.30 337.78,97.55 337.38,97.78 336.99,98.02 336.60,98.25 336.21,98.47 335.82,98.70 335.44,98.92 335.06,99.14 334.68,99.35 334.30,99.56 333.93,99.77 333.56,99.97 333.19,100.17 332.82,100.37 332.45,100.57 332.09,100.76 331.73,100.95 331.36,101.14 331.00,101.32 330.64,101.50 330.29,101.68 329.93,101.85 329.57,102.02 329.22,102.19 328.87,102.35 328.51,102.51 328.16,102.67 327.81,102.82 327.46,102.97 327.10,103.11 326.75,103.26 326.40,103.39 326.05,103.53 325.70,103.66 325.35,103.78 325.00,103.91 324.65,104.03 324.30,104.14 323.96,104.26 323.61,104.37 323.27,104.48 322.92,104.58 322.58,104.68 322.24,104.78 321.90,104.88 321.56,104.97 321.23,105.07 320.89,105.16 320.56,105.24 320.23,105.33 319.90,105.42 319.58,105.50 319.25,105.58 318.93,105.67 318.61,105.75 318.29,105.83 317.98,105.91 317.66,105.99 317.35,106.06 317.04,106.14 316.74,106.22 316.43,106.30 316.13,106.38 315.83,106.46 315.54,106.54 315.24,106.62 314.95,106.71 314.66,106.79 314.37,106.87 314.08,106.95 313.80,107.04 313.51,107.12 313.23,107.21 312.95,107.29 312.67,107.38 312.39,107.47 312.11,107.55 311.84,107.64 311.56,107.73 311.29,107.81 311.01,107.90 310.74,107.99 310.47,108.07 310.19,108.16 309.92,108.25 309.65,108.34 309.38,108.42 309.11,108.51 308.84,108.60 308.57,108.68 308.30,108.77 308.02,108.86 307.75,108.94 307.48,109.03 307.21,109.11 306.94,109.19 306.67,109.28 306.40,109.36 306.12,109.44 305.85,109.52 305.58,109.60 305.30,109.68 305.03,109.75 304.76,109.83 304.48,109.91 304.21,109.98 303.93,110.06 303.65,110.13 303.38,110.20 303.10,110.27 302.82,110.35 302.54,110.42 302.27,110.49 301.99,110.56 301.71,110.63 301.43,110.70 301.14,110.77 300.86,110.84 300.58,110.90 300.30,110.97 300.01,111.04 299.73,111.11 299.44,111.18 299.15,111.25 298.86,111.31 298.57,111.38 298.28,111.45 297.99,111.52 297.70,111.59 297.41,111.65 297.11,111.72 296.82,111.79 296.52,111.86 296.22,111.93 295.92,112.00 295.62,112.07 295.31,112.13 295.01,112.20 294.70,112.27 294.39,112.34 294.08,112.40 293.77,112.47 293.46,112.54 293.14,112.60 292.83,112.66 292.51,112.72 292.19,112.78 291.87,112.84 291.55,112.90 291.22,112.96 290.89,113.01 290.57,113.06 290.24,113.11 289.90,113.16 289.57,113.21 289.24,113.25 288.90,113.29 288.56,113.33 288.22,113.36 287.88,113.40 287.54,113.43 287.20,113.45 286.85,113.48 286.51,113.50 286.16,113.51 285.81,113.53 285.46,113.54 285.11,113.55 284.76,113.55 284.41,113.55 284.05,113.55 283.70,113.54 283.34,113.53 282.99,113.52 282.63,113.51 282.27,113.49 281.91,113.47 281.55,113.44 281.18,113.42 280.82,113.39 280.46,113.35 280.09,113.32 279.72,113.28 279.36,113.24 278.99,113.19 278.62,113.14 278.25,113.09 277.87,113.04 277.50,112.98 277.13,112.93 276.75,112.86 276.38,112.80 276.00,112.73 275.62,112.66 275.24,112.59 274.86,112.51 274.48,112.43 274.09,112.35 273.71,112.27 273.32,112.18 272.93,112.09 272.54,112.00 272.16,111.90 271.76,111.80 271.37,111.70 270.98,111.59 270.58,111.49 270.19,111.38 269.79,111.26 269.39,111.15 268.99,111.03 268.59,110.91 268.18,110.78 267.78,110.65 267.37,110.52 266.97,110.39 266.56,110.25 266.15,110.11 265.74,109.96 265.32,109.82 264.91,109.67 264.49,109.51 264.07,109.36 263.66,109.20 263.23,109.03 262.81,108.87 262.39,108.69 261.97,108.52 261.54,108.34 261.12,108.15 260.70,107.96 260.27,107.77 259.85,107.57 259.43,107.37 259.00,107.16 258.58,106.95 258.16,106.73 257.74,106.50 257.32,106.27 256.91,106.04 256.50,105.79 256.08,105.54 255.68,105.29 255.27,105.03 254.87,104.76 254.47,104.49 254.07,104.21 253.68,103.93 253.29,103.64 252.91,103.34 252.53,103.04 252.16,102.73 251.79,102.41 251.42,102.09 251.06,101.76 250.71,101.43 250.36,101.09 250.02,100.74 249.68,100.39 249.35,100.03 249.03,99.67 248.71,99.30 248.40,98.93 248.10,98.55 247.80,98.16 247.51,97.77 247.23,97.37 246.95,96.97 246.69,96.57 246.43,96.16 246.18,95.74 245.93,95.32 245.70,94.90 245.47,94.47 245.25,94.04 245.04,93.60 244.83,93.16 244.64,92.72 244.45,92.27 244.27,91.82 244.09,91.37 243.93,90.91 243.77,90.45 243.62,89.99 243.48,89.53 243.34,89.06 243.21,88.59 243.09,88.12 242.98,87.65 242.87,87.18 242.77,86.70 242.68,86.22 242.59,85.74 242.51,85.27 242.44,84.79 242.37,84.30 242.31,83.82 242.25,83.34 242.20,82.86 242.15,82.37 242.10,81.89 242.06,81.40 242.02,80.92 241.99,80.43 241.95,79.95 241.92,79.46 241.90,78.97 241.88,78.49 241.86,78.00 241.85,77.51 241.85,77.03 241.86,76.54 241.88,76.05 241.91,75.56 241.95,75.08 242.00,74.59 242.07,74.11 242.15,73.63 242.25,73.15 242.37,72.67 242.50,72.20 242.65,71.73 242.81,71.26 242.99,70.80 243.18,70.34 243.39,69.88 243.61,69.43 243.84,68.99 244.08,68.55 244.34,68.11 244.60,67.68 244.87,67.25 245.15,66.83 245.44,66.42 245.74,66.00 246.05,65.60 246.36,65.20 246.68,64.81 247.00,64.42 247.34,64.03 247.67,63.65 248.02,63.28 248.36,62.92 248.72,62.56 249.08,62.20 249.45,61.85 249.82,61.51 250.19,61.18 250.57,60.85 250.96,60.53 251.35,60.21 251.75,59.90 252.15,59.60 252.56,59.30 252.97,59.01 253.38,58.73 253.80,58.45 254.22,58.18 254.64,57.92 255.06,57.66 255.49,57.41 255.92,57.17 256.34,56.93 256.77,56.69 257.20,56.47 257.63,56.24 258.05,56.02 258.48,55.81 258.90,55.60 259.33,55.40 259.75,55.20 260.16,55.00 260.58,54.80 260.99,54.61 261.40,54.43 261.80,54.24 262.21,54.06 262.61,53.88 263.00,53.71 263.40,53.53 263.79,53.36 264.18,53.20 264.57,53.03 264.95,52.87 265.34,52.72 265.72,52.56 266.10,52.41 266.47,52.26 266.85,52.11 267.22,51.97 267.59,51.83 267.96,51.69 268.33,51.55 268.69,51.42 269.05,51.29 269.42,51.16 269.78,51.03 270.13,50.91 270.49,50.79 270.85,50.67 271.20,50.56 271.56,50.45 271.91,50.34 272.26,50.23 272.60,50.13 272.95,50.03 273.30,49.93 273.64,49.83 273.98,49.73 274.32,49.64 274.66,49.55 275.00,49.46 275.33,49.37 275.67,49.28 276.00,49.20 276.33,49.12 276.66,49.03 276.98,48.95 277.31,48.87 277.63,48.80 277.95,48.72 278.27,48.64 278.59,48.57 278.90,48.50 279.22,48.42 279.53,48.35 279.84,48.28 280.15,48.21 280.46,48.14 280.76,48.06 281.07,47.99 281.37,47.92 281.67,47.85 281.97,47.78 282.27,47.72 282.57,47.65 282.86,47.58 283.16,47.51 283.45,47.44 283.74,47.37 284.03,47.29 284.32,47.22 284.61,47.15 284.89,47.08 285.18,47.01 285.46,46.93 285.75,46.86 286.03,46.78 286.31,46.71 286.59,46.63 286.87,46.55 287.15,46.47 287.43,46.39 287.71,46.31 287.99,46.23 288.26,46.15 288.54,46.06 288.82,45.98 289.10,45.89 289.37,45.80 289.65,45.71 289.93,45.62 290.20,45.53 290.48,45.43 290.76,45.33 291.03,45.24 291.31,45.14 291.59,45.04 291.87,44.93 292.15,44.83 292.43,44.73 292.71,44.62 292.99,44.52 293.28,44.41 293.56,44.31 293.85,44.20 294.14,44.09 294.43,43.99 294.72,43.88 295.01,43.78 295.30,43.68 295.59,43.58 295.89,43.48 296.19,43.38 296.49,43.28 296.79,43.18 297.09,43.09 297.39,43.00 297.70,42.91"/>
<polyline fill="none" stroke="#eab02c" stroke-width="2.0" stroke-linejoin="round" points="297.70,61.66 297.84,61.85 297.98,62.04 298.11,62.24 298.24,62.44 298.37,62.64 298.49,62.84 298.61,63.04 298.73,63.25 298.84,63.46 298.95,63.66 299.06,63.87 299.16,64.08 299.26,64.30 299.36,64.51 299.45,64.72 299.54,64.94 299.62,65.15 299.70,65.37 299.78,65.58 299.85,65.80 299.92,66.02 299.99,66.23 300.05,66.45 300.11,66.67 300.16,66.89 300.21,67.11 300.26,67.32 300.31,67.54 300.35,67.76 300.39,67.98 300.42,68.19 300.45,68.41 300.48,68.62 300.50,68.84 300.52,69.05 300.54,69.26 300.55,69.47 300.56,69.68 300.57,69.89 300.58,70.10 300.58,70.30 300.58,70.51 300.57,70.71 300.56,70.91 300.55,71.11 300.54,71.31 300.52,71.51 300.51,71.70 300.48,71.89 300.46,72.08 300.43,72.27 300.41,72.45 300.37,72.64 300.34,72.82 300.31,72.99 300.27,73.17 300.23,73.34 300.19,73.51 300.14,73.68 300.10,73.84 300.05,74.00 300.01,74.16 299.96,74.32 299.91,74.47 299.85,74.62 299.80,74.77 299.75,74.91 299.69,75.05 299.64,75.18 299.58,75.32 299.52,75.44 299.47,75.57 299.41,75.69 299.35,75.81 299.29,75.92 299.24,76.03 299.18,76.14 299.13,76.24 299.07,76.34 299.02,76.43 298.96,76.52 298.91,76.61 298.86,76.69 298.82,76.76 298.77,76.83 298.73,76.90 298.69,76.96 298.65,77.01 298.62,77.06 298.60,77.10 298.58,77.14 298.57,77.16 298.65,77.10 298.63,77.14 298.61,77.17 298.60,77.19 298.62,77.19 298.66,77.17 298.70,77.15 298.75,77.12 298.80,77.09 298.87,77.06 298.93,77.02 299.00,76.98 299.08,76.94 299.16,76.90 299.25,76.85 299.34,76.81 299.44,76.76 299.53,76.72 299.64,76.67 299.74,76.62 299.86,76.57 299.97,76.53 300.09,76.48 300.21,76.43 300.34,76.38 300.47,76.34 300.60,76.29 300.73,76.25 300.87,76.20 301.02,76.16 301.16,76.12 301.31,76.08 301.46,76.04 301.62,76.00 301.77,75.97 301.94,75.93 302.10,75.90 302.26,75.87 302.43,75.84 302.60,75.82 302.78,75.79 302.95,75.77 303.13,75.75 303.31,75.73 303.49,75.72 303.68,75.71 303.86,75.70 304.05,75.69 304.24,75.68 304.43,75.68 304.63,75.68 304.82,75.69 305.02,75.69 305.22,75.70 305.41,75.71 305.61,75.73 305.82,75.75 306.02,75.77 306.22,75.80 306.43,75.82 306.63,75.86 306.84,75.89 307.05,75.93 307.25,75.97 307.46,76.01 307.67,76.06 307.88,76.11 308.09,76.17 308.29,76.23 308.50,76.29 308.71,76.35 308.92,76.42 309.13,76.50 309.34,76.57 309.54,76.65 309.75,76.73 309.96,76.82 310.16,76.91 310.37,77.00 310.57,77.10 310.77,77.20 310.97,77.30 311.17,77.41 311.37,77.52 311.57,77.64 311.77,77.75 311.96,77.88 312.16,78.00 312.35,78.13 312.54,78.26 312.73,78.39 312.91,78.53 313.10,78.67 313.28,78.82 313.46,78.96 313.64,79.11 313.81,79.27 313.98,79.42 314.15,79.58 314.32,79.75 314.49,79.91 314.65,80.08 314.81,80.25 314.97,80.43 315.12,80.60 315.27,80.78 315.42,80.97 315.56,81.15 315.70,81.34 315.84,81.53 315.98,81.72 316.11,81.91 316.24,82.11 316.36,82.31 316.48,82.51 316.60,82.71 316.71,82.92 316.82,83.12 316.93,83.33 317.03,83.54 317.13,83.76 317.22,83.97 317.31,84.18 317.40,84.40 317.48,84.62 317.56,84.84 317.63,85.06 317.70,85.28 317.77,85.50 317.83,85.73 317.89,85.95 317.94,86.18 317.99,86.40 318.03,86.63 318.07,86.86 318.11,87.09 318.14,87.32 318.17,87.54 318.19,87.77 318.21,88.00 318.22,88.23 318.23,88.46 318.23,88.69 318.23,88.92 318.23,89.15 318.22,89.37 318.20,89.60 318.19,89.83 318.16,90.05 318.14,90.28 318.10,90.50 318.07,90.73 318.03,90.95 317.98,91.17 317.93,91.39 317.88,91.61 317.82,91.83 317.76,92.04 317.69,92.26 317.62,92.47 317.54,92.68 317.46,92.89 317.38,93.10 317.29,93.31 317.20,93.51 317.10,93.71 317.00,93.91 316.90,94.11 316.79,94.30 316.67,94.49 316.56,94.68 316.44,94.87 316.31,95.05 316.18,95.24 316.05,95.41 315.91,95.59 315.78,95.76 315.63,95.93 315.49,96.10 315.34,96.26 315.18,96.42 315.03,96.58 314.87,96.73 314.70,96.88 314.54,97.03 314.37,97.17 314.19,97.31 314.02,97.45 313.84,97.58 313.66,97.71 313.48,97.83 313.29,97.95 313.10,98.07 312.91,98.18 312.72,98.29 312.52,98.40 312.32,98.50 312.12,98.59 311.92,98.69 311.71,98.77 311.51,98.86 311.30,98.94 311.09,99.01 310.87,99.08 310.66,99.15 310.45,99.21 310.23,99.27 310.01,99.32 309.79,99.37 309.57,99.42 309.35,99.46 309.13,99.49 308.90,99.52 308.68,99.55 308.45,99.57 308.23,99.59 308.00,99.60 307.78,99.61 307.55,99.61 307.32,99.61 307.09,99.60 306.87,99.59 306.64,99.58 306.41,99.56 306.18,99.54 305.96,99.51 305.73,99.48 305.50,99.44 305.28,99.40 305.05,99.35 304.83,99.30 304.60,99.25 304.38,99.19 304.16,99.12 303.94,99.06 303.72,98.99 303.50,98.91 303.28,98.83 303.06,98.74 302.85,98.66 302.64,98.56 302.42,98.47 302.21,98.37 302.01,98.26 301.80,98.15 301.60,98.04 301.39,97.92 301.19,97.80 300.99,97.68 300.80,97.55 300.60,97.42 300.41,97.29 300.22,97.15 300.03,97.01 299.85,96.86 299.67,96.72 299.49,96.57 299.31,96.41 299.14,96.25 298.97,96.09 298.80,95.93 298.63,95.77 298.47,95.60 298.31,95.42 298.15,95.25 298.00,95.07 297.85,94.89 297.70,94.71 297.56,94.53 297.41,94.34 297.28,94.16 297.14,93.96 297.01,93.77 296.88,93.58 296.76,93.38 296.64,93.18 296.52,92.98 296.41,92.78 296.30,92.58 296.19,92.38 296.09,92.17 295.99,91.96 295.89,91.76 295.80,91.55 295.71,91.34 295.62,91.13 295.54,90.92 295.46,90.70 295.38,90.49 295.31,90.28 295.25,90.06 295.18,89.85 295.12,89.64 295.06,89.42 295.01,89.21 294.96,88.99 294.91,88.78 294.87,88.56 294.83,88.35 294.79,88.14 294.76,87.92 294.73,87.71 294.70,87.50 294.68,87.29 294.66,87.08 294.65,86.87 294.63,86.66 294.62,86.45 294.62,86.25 294.61,86.04 294.61,85.84 294.62,85.63 294.62,85.43 294.63,85.23 294.64,85.04 294.65,84.84 294.67,84.65 294.69,84.45 294.71,84.26 294.74,84.07 294.76,83.89 294.79,83.70 294.83,83.52 294.86,83.34 294.90,83.17 294.93,82.99 294.97,82.82 295.02,82.65 295.06,82.48 295.11,82.32 295.15,82.15 295.20,82.00 295.25,81.84 295.31,81.69 295.36,81.54 295.41,81.39 295.47,81.25 295.53,81.11 295.58,80.97 295.64,80.83 295.70,80.70 295.76,80.58 295.82,80.45 295.88,80.33 295.94,80.22 296.00,80.10 296.06,79.99 296.11,79.89 296.17,79.79 296.23,79.69 296.29,79.60 296.34,79.51 296.40,79.42 296.45,79.34 296.50,79.26 296.55,79.19 296.60,79.12 296.64,79.06 296.68,79.00 296.83,78.84 296.81,78.85 296.77,78.86 296.73,78.89 296.68,78.92 296.62,78.95 296.56,78.99 296.50,79.03 296.42,79.07 296.35,79.12 296.26,79.16 296.18,79.21 296.09,79.26 295.99,79.31 295.89,79.36 295.79,79.42 295.68,79.47 295.57,79.52 295.45,79.57 295.33,79.63 295.21,79.68 295.08,79.73 294.95,79.79 294.82,79.84 294.68,79.89 294.54,79.94 294.39,79.99 294.25,80.03 294.10,80.08 293.94,80.13 293.79,80.17 293.63,80.21 293.46,80.25 293.30,80.29 293.13,80.33 292.96,80.36 292.78,80.40 292.61,80.43 292.43,80.46 292.25,80.49 292.06,80.51 291.88,80.53 291.69,80.55 291.50,80.57 291.30,80.58 291.11,80.60 290.91,80.60 290.72,80.61 290.52,80.61 290.32,80.62 290.11,80.61 289.91,80.61 289.70,80.60 289.50,80.59 289.29,80.57 289.08,80.55 288.87,80.53 288.66,80.51 288.44,80.48 288.23,80.45 288.02,80.41 287.80,80.38 287.59,80.33 287.37,80.29 287.16,80.24 286.94,80.19 286.73,80.13 286.51,80.07 286.29,80.01 286.08,79.94 285.86,79.87 285.65,79.80 285.43,79.72 285.22,79.64 285.00,79.56 284.79,79.47 284.58,79.38 284.37,79.28 284.16,79.18 283.95,79.08 283.74,78.98 283.53,78.87 283.33,78.75 283.12,78.64 282.92,78.52 282.72,78.39 282.52,78.26 282.32,78.13 282.13,78.00 281.93,77.86 281.74,77.72 281.55,77.58 281.37,77.43 281.18,77.28 281.00,77.12 280.82,76.97 280.64,76.81 280.47,76.64 280.29,76.48 280.12,76.31 279.96,76.14 279.79,75.96 279.63,75.78 279.47,75.60 279.32,75.42 279.17,75.23 279.02,75.04 278.87,74.85 278.73,74.66 278.59,74.46 278.46,74.26 278.33,74.06 278.20,73.86 278.08,73.65 277.96,73.44 277.84,73.23 277.73,73.02 277.62,72.81 277.52,72.59 277.42,72.37 277.32,72.16 277.23,71.94 277.14,71.71 277.06,71.49 276.98,71.27 276.90,71.04 276.83,70.81 276.76,70.59 276.70,70.36 276.64,70.13 276.59,69.90 276.54,69.67 276.50,69.43 276.46,69.20 276.42,68.97 276.39,68.73 276.36,68.50 276.34,68.27 276.32,68.03 276.31,67.80 276.30,67.56 276.30,67.33 276.30,67.10 276.31,66.86 276.32,66.63 276.33,66.40 276.35,66.17 276.38,65.94 276.41,65.71 276.44,65.48 276.48,65.25 276.52,65.02 276.57,64.80 276.62,64.57 276.68,64.35 276.74,64.13 276.80,63.90 276.87,63.69 276.95,63.47 277.03,63.25 277.11,63.04 277.20,62.83 277.29,62.62 277.38,62.41 277.48,62.21 277.59,62.00 277.70,61.80 277.81,61.60 277.93,61.41 278.05,61.22 278.17,61.03 278.30,60.84 278.43,60.65 278.57,60.47 278.71,60.29 278.86,60.12 279.00,59.94 279.15,59.77 279.31,59.61 279.47,59.45 279.63,59.29 279.79,59.13 279.96,58.98 280.13,58.83 280.31,58.68 280.49,58.54 280.67,58.40 280.85,58.27 281.04,58.14 281.23,58.01 281.42,57.89 281.61,57.77 281.81,57.66 282.01,57.55 282.21,57.44 282.41,57.34 282.62,57.25 282.83,57.15 283.04,57.06 283.25,56.98 283.47,56.90 283.68,56.82 283.90,56.75 284.12,56.69 284.34,56.62 284.57,56.57 284.79,56.51 285.01,56.46 285.24,56.42 285.47,56.38 285.70,56.35 285.93,56.32 286.16,56.29 286.39,56.27 286.62,56.25 286.85,56.24 287.08,56.23 287.32,56.23 287.55,56.23 287.78,56.24 288.02,56.25 288.25,56.27 288.48,56.29 288.72,56.32 288.95,56.35 289.18,56.38 289.42,56.42 289.65,56.46 289.88,56.51 290.11,56.56 290.34,56.62 290.57,56.68 290.79,56.75 291.02,56.82 291.25,56.89 291.47,56.97 291.69,57.05 291.92,57.14 292.14,57.23 292.35,57.33 292.57,57.43 292.79,57.53 293.00,57.64 293.21,57.75 293.42,57.87 293.63,57.99 293.83,58.11 294.04,58.24 294.24,58.37 294.44,58.50 294.63,58.64 294.83,58.78 295.02,58.93 295.21,59.08 295.40,59.23 295.58,59.38 295.76,59.54 295.94,59.70 296.11,59.87 296.29,60.03 296.46,60.20 296.62,60.38 296.79,60.55 296.95,60.73 297.10,60.91 297.26,61.09 297.41,61.28 297.56,61.47 297.70,61.66"/>
<polyline fill="none" stroke="#a51fb0" stroke-width="2.0" stroke-linejoin="round" points="297.70,53.34 297.92,53.24 298.13,53.14 298.35,53.04 298.57,52.95 298.80,52.87 299.02,52.79 299.25,52.71 299.47,52.64 299.70,52.57 299.93,52.51 300.16,52.45 300.39,52.40 300.62,52.36 300.85,52.32 301.09,52.28 301.32,52.25 301.55,52.22 301.79,52.20 302.02,52.18 302.25,52.17 302.49,52.17 302.72,52.17 302.96,52.17 303.19,52.18 303.42,52.19 303.65,52.21 303.89,52.24 304.12,52.27 304.35,52.30 304.58,52.34 304.80,52.39 305.03,52.44 305.26,52.49 305.48,52.55 305.70,52.61 305.93,52.68 306.15,52.76 306.36,52.84 306.58,52.92 306.80,53.01 307.01,53.10 307.22,53.20 307.43,53.30 307.63,53.41 307.84,53.52 308.04,53.64 308.24,53.76 308.44,53.88 308.63,54.01 308.82,54.15 309.01,54.29 309.20,54.43 309.38,54.58 309.56,54.73 309.74,54.88 309.91,55.04 310.08,55.20 310.25,55.37 310.41,55.54 310.57,55.71 310.73,55.89 310.88,56.07 311.03,56.25 311.17,56.44 311.31,56.63 311.45,56.82 311.59,57.02 311.72,57.22 311.84,57.42 311.96,57.63 312.08,57.84 312.19,58.05 312.30,58.26 312.41,58.48 312.51,58.70 312.61,58.92 312.70,59.14 312.79,59.37 312.87,59.60 312.95,59.83 313.02,60.06 313.10,60.29 313.16,60.52 313.22,60.76 313.28,61.00 313.33,61.24 313.38,61.48 313.42,61.72 313.46,61.96 313.49,62.21 313.52,62.45 313.55,62.70 313.57,62.94 313.58,63.19 313.59,63.44 313.60,63.68 313.60,63.93 313.60,64.18 313.59,64.43 313.58,64.68 313.56,64.92 313.54,65.17 313.52,65.42 313.49,65.67 313.45,65.91 313.41,66.16 313.37,66.40 313.32,66.65 313.27,66.89 313.22,67.14 313.16,67.38 313.09,67.62 313.02,67.86 312.95,68.10 312.87,68.33 312.79,68.57 312.71,68.80 312.62,69.03 312.53,69.26 312.43,69.49 312.33,69.72 312.23,69.95 312.12,70.17 312.01,70.39 311.90,70.61 311.78,70.83 311.66,71.04 311.54,71.25 311.41,71.46 311.28,71.67 311.15,71.87 311.01,72.07 310.87,72.27 310.73,72.47 310.59,72.66 310.44,72.85 310.29,73.04 310.14,73.23 309.98,73.41 309.83,73.59 309.67,73.76 309.51,73.94 309.34,74.10 309.18,74.27 309.01,74.43 308.84,74.59 308.67,74.75 308.50,74.90 308.33,75.05 308.15,75.20 307.98,75.34 307.80,75.48 307.62,75.62 307.44,75.75 307.26,75.88 307.08,76.01 306.90,76.13 306.72,76.25 306.54,76.36 306.35,76.47 306.17,76.58 305.99,76.69 305.81,76.79 305.62,76.89 305.44,76.98 305.26,77.07 305.08,77.16 304.89,77.24 304.71,77.32 304.53,77.40 304.35,77.48 304.18,77.55 304.00,77.61 303.82,77.68 303.65,77.74 303.47,77.80 303.30,77.85 303.13,77.91 302.96,77.95 302.79,78.00 302.63,78.04 302.46,78.08 302.30,78.12 302.14,78.16 301.98,78.19 301.83,78.22 301.67,78.24 301.52,78.27 301.38,78.29 301.23,78.31 301.09,78.33 300.95,78.34 300.81,78.35 300.68,78.37 300.55,78.38 300.43,78.38 300.30,78.39 300.19,78.39 300.07,78.40 299.96,78.40 299.85,78.40 299.75,78.40 299.65,78.40 299.55,78.39 299.46,78.39 299.38,78.39 299.30,78.38 299.22,78.38 299.15,78.38 299.09,78.37 299.03,78.37 298.98,78.37 298.93,78.36 298.89,78.37 298.87,78.37 298.85,78.37 300.98,79.10 300.84,79.08 300.70,79.06 300.56,79.04 300.43,79.02 300.30,79.00 300.18,78.98 300.06,78.95 299.95,78.93 299.83,78.91 299.73,78.88 299.62,78.86 299.53,78.83 299.43,78.81 299.34,78.78 299.26,78.76 299.18,78.74 299.11,78.72 299.04,78.70 298.97,78.68 298.92,78.66 298.86,78.65 298.82,78.63 298.78,78.63 298.75,78.62 298.74,78.62 298.74,78.64 298.76,78.66 298.79,78.69 298.82,78.73 298.85,78.76 298.90,78.81 298.94,78.85 298.99,78.90 299.05,78.96 299.10,79.02 299.16,79.08 299.23,79.15 299.29,79.22 299.36,79.30 299.43,79.38 299.50,79.46 299.58,79.55 299.65,79.64 299.73,79.73 299.81,79.83 299.88,79.93 299.96,80.04 300.05,80.15 300.13,80.26 300.21,80.38 300.29,80.50 300.37,80.63 300.45,80.75 300.54,80.89 300.62,81.02 300.70,81.16 300.78,81.31 300.86,81.45 300.94,81.60 301.02,81.76 301.10,81.91 301.18,82.07 301.25,82.24 301.33,82.40 301.40,82.57 301.48,82.75 301.55,82.92 301.61,83.10 301.68,83.28 301.75,83.47 301.81,83.66 301.87,83.85 301.93,84.04 301.99,84.24 302.04,84.44 302.10,84.64 302.15,84.85 302.19,85.05 302.24,85.26 302.28,85.47 302.32,85.69 302.36,85.90 302.39,86.12 302.42,86.34 302.45,86.56 302.47,86.79 302.49,87.01 302.51,87.24 302.53,87.47 302.54,87.70 302.54,87.93 302.55,88.16 302.55,88.40 302.55,88.63 302.54,88.87 302.53,89.11 302.52,89.35 302.50,89.59 302.48,89.83 302.45,90.07 302.42,90.31 302.39,90.55 302.35,90.79 302.31,91.03 302.27,91.27 302.22,91.51 302.17,91.76 302.11,92.00 302.05,92.24 301.99,92.48 301.92,92.72 301.85,92.96 301.77,93.20 301.69,93.43 301.61,93.67 301.52,93.91 301.43,94.14 301.33,94.38 301.23,94.61 301.13,94.84 301.02,95.07 300.91,95.30 300.79,95.52 300.67,95.75 300.55,95.97 300.42,96.19 300.29,96.41 300.15,96.62 300.01,96.84 299.87,97.05 299.72,97.26 299.57,97.46 299.42,97.67 299.26,97.87 299.10,98.07 298.94,98.26 298.77,98.45 298.60,98.64 298.43,98.83 298.25,99.01 298.07,99.19 297.89,99.37 297.70,99.54 297.51,99.71 297.32,99.87 297.12,100.03 296.93,100.19 296.72,100.35 296.52,100.50 296.32,100.64 296.11,100.78 295.90,100.92 295.68,101.05 295.47,101.18 295.25,101.31 295.03,101.43 294.81,101.54 294.59,101.66 294.36,101.76 294.13,101.86 293.90,101.96 293.67,102.06 293.44,102.14 293.21,102.23 292.98,102.31 292.74,102.38 292.50,102.45 292.27,102.51 292.03,102.57 291.79,102.63 291.55,102.67 291.31,102.72 291.07,102.76 290.82,102.79 290.58,102.82 290.34,102.84 290.10,102.86 289.86,102.88 289.61,102.89 289.37,102.89 289.13,102.89 288.89,102.88 288.65,102.87 288.41,102.85 288.17,102.83 287.93,102.80 287.69,102.77 287.46,102.73 287.22,102.69 286.99,102.64 286.75,102.59 286.52,102.53 286.29,102.47 286.06,102.40 285.83,102.33 285.61,102.25 285.39,102.17 285.16,102.08 284.95,101.99 284.73,101.89 284.51,101.79 284.30,101.68 284.09,101.57 283.88,101.46 283.68,101.34 283.48,101.21 283.28,101.08 283.08,100.95 282.89,100.81 282.70,100.67 282.51,100.52 282.32,100.37 282.14,100.22 281.96,100.06 281.79,99.90 281.62,99.73 281.45,99.56 281.29,99.39 281.13,99.21 280.97,99.03 280.82,98.84 280.67,98.66 280.53,98.46 280.39,98.27 280.25,98.07 280.12,97.87 279.99,97.67 279.87,97.46 279.75,97.25 279.63,97.04 279.52,96.82 279.42,96.60 279.32,96.38 279.22,96.16 279.13,95.94 279.04,95.71 278.95,95.48 278.88,95.25 278.80,95.02 278.73,94.78 278.67,94.54 278.61,94.31 278.55,94.07 278.50,93.82 278.46,93.58 278.42,93.34 278.38,93.09 278.35,92.85 278.32,92.60 278.30,92.35 278.29,92.10 278.28,91.86 278.27,91.61 278.27,91.36 278.27,91.11 278.28,90.85 278.29,90.60 278.31,90.35 278.33,90.10 278.36,89.85 278.39,89.60 278.43,89.35 278.47,89.10 278.52,88.85 278.57,88.61 278.62,88.36 278.68,88.11 278.75,87.87 278.82,87.62 278.89,87.38 278.97,87.14 279.05,86.90 279.14,86.66 279.23,86.42 279.32,86.18 279.42,85.95 279.53,85.71 279.63,85.48 279.75,85.25 279.86,85.03 279.98,84.80 280.10,84.58 280.23,84.36 280.36,84.14 280.50,83.92 280.64,83.71 280.78,83.50 280.92,83.29 281.07,83.08 281.22,82.88 281.38,82.68 281.54,82.48 281.70,82.29 281.86,82.10 282.03,81.91 282.20,81.72 282.37,81.54 282.55,81.36 282.72,81.18 282.90,81.01 283.08,80.84 283.27,80.67 283.46,80.51 283.64,80.35 283.84,80.20 284.03,80.04 284.22,79.89 284.42,79.75 284.62,79.61 284.82,79.47 285.02,79.33 285.22,79.20 285.42,79.07 285.62,78.95 285.83,78.83 286.03,78.71 286.24,78.60 286.45,78.49 286.66,78.39 286.86,78.28 287.07,78.19 287.28,78.09 287.49,78.00 287.70,77.91 287.91,77.83 288.12,77.75 288.33,77.67 288.54,77.60 288.74,77.53 288.95,77.46 289.16,77.40 289.36,77.34 289.57,77.29 289.77,77.24 289.98,77.19 290.18,77.14 290.38,77.10 290.58,77.06 290.77,77.03 290.97,76.99 291.16,76.96 291.36,76.94 291.55,76.92 291.74,76.89 291.92,76.88 292.11,76.86 292.29,76.85 292.47,76.84 292.65,76.83 292.82,76.83 293.00,76.83 293.17,76.83 293.33,76.83 293.50,76.83 293.66,76.84 293.82,76.85 293.97,76.86 294.13,76.87 296.55,77.63 296.54,77.61 296.52,77.59 296.49,77.57 296.45,77.55 296.41,77.52 296.36,77.49 296.30,77.45 296.25,77.41 296.18,77.37 296.11,77.33 296.04,77.28 295.97,77.23 295.89,77.18 295.81,77.12 295.73,77.06 295.64,76.99 295.55,76.93 295.46,76.86 295.36,76.78 295.27,76.71 295.17,76.63 295.07,76.54 294.97,76.46 294.87,76.37 294.77,76.27 294.66,76.17 294.56,76.07 294.45,75.97 294.34,75.86 294.23,75.75 294.13,75.63 294.02,75.52 293.91,75.39 293.80,75.27 293.69,75.14 293.58,75.01 293.47,74.87 293.36,74.73 293.26,74.59 293.15,74.44 293.04,74.30 292.94,74.14 292.83,73.99 292.73,73.83 292.62,73.67 292.52,73.50 292.42,73.33 292.32,73.16 292.23,72.98 292.13,72.81 292.04,72.63 291.94,72.44 291.85,72.26 291.77,72.07 291.68,71.87 291.60,71.68 291.51,71.48 291.43,71.28 291.36,71.08 291.28,70.87 291.21,70.66 291.14,70.45 291.07,70.24 291.01,70.03 290.95,69.81 290.89,69.59 290.83,69.37 290.78,69.15 290.73,68.92 290.69,68.69 290.65,68.47 290.61,68.24 290.57,68.01 290.54,67.77 290.51,67.54 290.48,67.30 290.46,67.07 290.44,66.83 290.43,66.59 290.42,66.35 290.41,66.11 290.41,65.87 290.41,65.62 290.41,65.38 290.42,65.14 290.44,64.89 290.45,64.65 290.47,64.41 290.50,64.16 290.53,63.92 290.56,63.67 290.59,63.43 290.63,63.19 290.68,62.94 290.73,62.70 290.78,62.46 290.84,62.22 290.90,61.98 290.96,61.74 291.03,61.50 291.11,61.26 291.18,61.02 291.26,60.79 291.35,60.55 291.44,60.32 291.53,60.09 291.63,59.86 291.73,59.63 291.84,59.41 291.95,59.18 292.06,58.96 292.18,58.74 292.30,58.52 292.42,58.31 292.55,58.10 292.68,57.89 292.82,57.68 292.96,57.47 293.10,57.27 293.25,57.07 293.40,56.87 293.56,56.68 293.71,56.49 293.87,56.30 294.04,56.12 294.21,55.94 294.38,55.76 294.55,55.59 294.73,55.42 294.91,55.25 295.09,55.09 295.28,54.93 295.46,54.77 295.65,54.62 295.85,54.48 296.05,54.33 296.24,54.19 296.45,54.06 296.65,53.93 296.85,53.80 297.06,53.68 297.27,53.56 297.49,53.45 297.70,53.34"/>
<circle cx="297.7" cy="78.0" r="56.0" fill="none" stroke="#333" stroke-width="0.8"/>
<text x="304.30" y="67.80" font-size="7.0" fill="#222" stroke="#222" stroke-width="0.16" text-anchor="middle" font-family="DejaVu Sans, Liberation Sans, sans-serif" >1</text>
<text x="311.40" y="57.00" font-size="7.0" fill="#222" stroke="#222" stroke-width="0.16" text-anchor="middle" font-family="DejaVu Sans, Liberation Sans, sans-serif" >2</text>
<text x="317.70" y="50.10" font-size="7.0" fill="#222" stroke="#222" stroke-width="0.16" text-anchor="middle" font-family="DejaVu Sans, Liberation Sans, sans-serif" >3</text>
<text x="325.80" y="40.00" font-size="7.0" fill="#222" stroke="#222" stroke-width="0.16" text-anchor="middle" font-family="DejaVu Sans, Liberation Sans, sans-serif" >4</text>
<text x="296.60" y="15.50" font-size="7.7" fill="#1a1a1a" stroke="#1a1a1a" stroke-width="0.16" text-anchor="middle" font-family="DejaVu Sans, Liberation Sans, sans-serif" >0°</text>
<text x="342.60" y="34.50" font-size="7.7" fill="#1a1a1a" stroke="#1a1a1a" stroke-width="0.16" text-anchor="middle" font-family="DejaVu Sans, Liberation Sans, sans-serif" >45°</text>
<text x="361.20" y="81.30" font-size="7.7" fill="#1a1a1a" stroke="#1a1a1a" stroke-width="0.16" text-anchor="middle" font-family="DejaVu Sans, Liberation Sans, sans-serif" >90°</text>
<text x="342.40" y="127.60" font-size="7.7" fill="#1a1a1a" stroke="#1a1a1a" stroke-width="0.16" text-anchor="middle" font-family="DejaVu Sans, Liberation Sans, sans-serif" >135°</text>
<text x="296.60" y="146.20" font-size="7.7" fill="#1a1a1a" stroke="#1a1a1a" stroke-width="0.16" text-anchor="middle" font-family="DejaVu Sans, Liberation Sans, sans-serif" >180°</text>
<text x="249.80" y="127.60" font-size="7.7" fill="#1a1a1a" stroke="#1a1a1a" stroke-width="0.16" text-anchor="middle" font-family="DejaVu Sans, Liberation Sans, sans-serif" >225°</text>
<text x="231.50" y="80.90" font-size="7.7" fill="#1a1a1a" stroke="#1a1a1a" stroke-width="0.16" text-anchor="middle" font-family="DejaVu Sans, Liberation Sans, sans-serif" >270°</text>
<text x="250.00" y="34.50" font-size="7.7" fill="#1a1a1a" stroke="#1a1a1a" stroke-width="0.16" text-anchor="middle" font-family="DejaVu Sans, Liberation Sans, sans-serif" >315°</text>
<circle cx="216.8" cy="38.6" r="2.0" fill="#7fabca"/>
<text x="228.60" y="41.00" font-size="6.8" fill="#111" stroke="#111" stroke-width="0.16" text-anchor="start" font-family="Liberation Sans, sans-serif" >NV1</text>
<circle cx="216.8" cy="48.3" r="2.0" fill="#ead3a0"/>
<text x="228.60" y="50.70" font-size="6.8" fill="#111" stroke="#111" stroke-width="0.16" text-anchor="start" font-family="Liberation Sans, sans-serif" >NV2</text>
<circle cx="216.8" cy="58.0" r="2.0" fill="#b28ccd"/>
<text x="228.60" y="60.40" font-size="6.8" fill="#111" stroke="#111" stroke-width="0.16" text-anchor="start" font-family="Liberation Sans, sans-serif" >NV3</text>
</g>
<g id="pd">
<text x="211.00" y="157.60" font-size="9.0" fill="#111" stroke="#111" stroke-width="0.16" text-anchor="start" font-family="Liberation Sans, sans-serif" >(d)</text>
<circle cx="217.1" cy="183.7" r="1.9" fill="#84b4cc"/>
<text x="228.40" y="186.10" font-size="6.8" fill="#111" stroke="#111" stroke-width="0.16" text-anchor="start" font-family="Liberation Sans, sans-serif" >NV1</text>
<circle cx="217.1" cy="193.4" r="1.9" fill="#ecd28c"/>
<text x="228.40" y="195.80" font-size="6.8" fill="#111" stroke="#111" stroke-width="0.16" text-anchor="start" font-family="Liberation Sans, sans-serif" >NV2</text>
<circle cx="217.1" cy="203.2" r="1.9" fill="#bb86cc"/>
<text x="228.40" y="205.60" font-size="6.8" fill="#111" stroke="#111" stroke-width="0.16" text-anchor="start" font-family="Liberation Sans, sans-serif" >NV3</text>
<polygon points="239.2,214.7 334.6,191.2 350.2,260.4 255.7,281.8" fill="#dcdcdc"/>
<line x1="244.3" y1="236.2" x2="346.0" y2="236.2" stroke="#3a3a3a" stroke-width="1.0"/>
<path d="M340.6,233.7 L347.0,236.2 L340.6,238.7" fill="none" stroke="#222" stroke-width="1.2" stroke-linejoin="miter"/>
<line x1="295.3" y1="276.5" x2="295.3" y2="189.0" stroke="#3a3a3a" stroke-width="1.1"/>
<path d="M292.6,196.0 L295.3,188.0 L298.0,196.0" fill="none" stroke="#222" stroke-width="1.3" stroke-linejoin="miter"/>
<path d="M278.87,229.89 A17.6,17.6 0 0 1 306.96,223.02" fill="none" stroke="#6e6e6e" stroke-width="1.0"/>
<path d="M281.67,230.97 A14.6,14.6 0 0 1 295.30,221.60" fill="none" stroke="#6e6e6e" stroke-width="1.0"/>
<line x1="295.3" y1="236.2" x2="333.4" y2="193.2" stroke="#dfb23c" stroke-width="1.5"/>
<line x1="295.3" y1="236.2" x2="239.4" y2="215.0" stroke="#a01fa8" stroke-width="2.0"/>
<line x1="295.90000000000003" y1="236.2" x2="304.0" y2="270.2" stroke="#1f7d93" stroke-width="2.1"/>
<line x1="298.0" y1="236.2" x2="298.0" y2="192.5" stroke="#777" stroke-width="1.2" stroke-dasharray="2.8 1.8"/>
<path d="M295.6,196.6 L298.6,191.2 L302.2,196.8" fill="none" stroke="#777" stroke-width="1.2"/>
<text x="301.8" y="194.7" font-size="8.8" font-weight="bold" fill="#8a8a8a" font-family="Liberation Sans, sans-serif">B<tspan font-size="7.4" dy="2.1">bias</tspan></text>
<text x="285.80" y="183.70" font-size="9.3" fill="#111" stroke="#111" stroke-width="0.16" text-anchor="start" font-family="Liberation Sans, sans-serif" >Y (0°)</text>
<text x="352.60" y="239.60" font-size="9.3" fill="#111" stroke="#111" stroke-width="0.16" text-anchor="start" font-family="Liberation Sans, sans-serif" >X</text>
<text x="276.2" y="215.8" font-size="8.4" fill="#747474" font-family="Liberation Sans, sans-serif">ϕ<tspan font-size="5.8" dy="1.6">2</tspan></text>
<text x="302.0" y="215.0" font-size="8.4" fill="#747474" font-family="Liberation Sans, sans-serif">ϕ<tspan font-size="5.8" dy="1.6">1</tspan></text>
<circle cx="261.3" cy="248.7" r="4.6" fill="#dcdcdc" stroke="#0a0a0a" stroke-width="1.7"/><circle cx="261.3" cy="248.7" r="2.1" fill="#0a0a0a"/>
<text x="261.20" y="260.30" font-size="7.0" fill="#0a0a0a" stroke="#0a0a0a" stroke-width="0.16" text-anchor="middle" font-family="Liberation Sans, sans-serif" >&lt;110&gt;</text>
</g>
<g id="pe">
<text x="391.50" y="56.30" font-size="9.0" fill="#111" stroke="#111" stroke-width="0.16" text-anchor="start" font-family="Liberation Sans, sans-serif" >(e)</text>
<defs>
<radialGradient id="sph" cx="0.5" cy="0.5" r="0.5"><stop offset="0" stop-color="#f2edf6"/><stop offset="0.85" stop-color="#efe8f4"/><stop offset="0.97" stop-color="#f1ebf5"/><stop offset="1" stop-color="#e6dcec"/></radialGradient>
<linearGradient id="cone" x1="0" y1="0" x2="1" y2="0"><stop offset="0" stop-color="#9fb8d2"/><stop offset="0.45" stop-color="#bccfe4"/><stop offset="0.7" stop-color="#9dbde2"/><stop offset="1" stop-color="#a4c6ea"/></linearGradient>
</defs>
<ellipse cx="448.6" cy="112.6" rx="57.7" ry="51.8" fill="url(#sph)" stroke="#d2c2de" stroke-width="0.8"/>
<polygon points="429.7,66.0 438.4,64.0 448.5,111.5 429.7,111.5" fill="#efe3c6" fill-opacity="0.6"/>
<polygon points="429.9,65.8 435.1,64.4 448.5,111.5" fill="#e9d199" fill-opacity="0.95" stroke="#e0c27a" stroke-width="0.4"/>
<line x1="429.7" y1="66" x2="429.7" y2="152" stroke="#ead9b0" stroke-width="0.5"/>
<line x1="435.6" y1="82.5" x2="432.4" y2="73.0" stroke="#86b4b8" stroke-width="0.8"/><path d="M431.6,75.6 L432.2,72.6 L434.2,74.8" fill="none" stroke="#86b4b8" stroke-width="0.6"/>
<polygon points="429.7,111.5 448.5,111.5 440,150 429.7,152" fill="#ece4cc" fill-opacity="0.22"/>
<path d="M448.5,111.5 L410.6,142.8 C404.5,149.5 416,160.8 435,163.2 C450,164.8 462,158.5 460.3,152.0 Z" fill="url(#cone)" fill-opacity="0.92" stroke="#8fb0d4" stroke-width="0.4"/>
<path d="M410.6,142.8 C404.5,149.5 416,160.8 435,163.2 C437,158 438,152 439.5,146 C431,139.8 417,139.2 410.6,142.8 Z" fill="#cddbeb" fill-opacity="0.75"/>
<path d="M410.6,142.8 C417,139.2 431,139.8 439.5,146 C447,141 456,145.5 460.3,152.0" fill="none" stroke="#b4cbe4" stroke-width="0.5"/>
<path d="M448.5,111.5 L410.6,142.8 L416.5,140.6 Z" fill="#8aa6c4" fill-opacity="0.6"/>
<path d="M448.5,111.5 L434.8,152.0 L438.8,151.0 Z" fill="#dfe2ac" fill-opacity="0.85"/>
<path d="M448.5,111.5 L453.0,133 L460.3,152.0 L451,161.2 L441.5,162.5 Z" fill="#6f9fdc" fill-opacity="0.6"/>
<line x1="448.5" y1="111.5" x2="449.3" y2="63.0" stroke="#666a7c" stroke-width="0.9"/><path d="M447.7,66.6 L449.3,62.2 L450.8,66.6" fill="none" stroke="#666a7c" stroke-width="0.8"/>
<line x1="448.5" y1="111.5" x2="506" y2="111.5" stroke="#ead29a" stroke-width="0.9"/><path d="M504.2,109.6 L509.4,111.5 L504.2,113.4 Z" fill="#ead29a"/>
<line x1="448.5" y1="111.5" x2="412.2" y2="108.2" stroke="#6c6072" stroke-width="0.7"/><path d="M415.4,106.7 L411.8,108.2 L415.2,110.0" fill="none" stroke="#6c6072" stroke-width="0.7"/>
<line x1="448.5" y1="111.5" x2="400.4" y2="114.9" stroke="#6c6072" stroke-width="0.7"/><path d="M403.6,113.0 L400.0,114.9 L403.7,116.4" fill="none" stroke="#6c6072" stroke-width="0.7"/>
<line x1="448.5" y1="111.5" x2="424.6" y2="106.9" stroke="#c487d2" stroke-width="0.8"/><path d="M427.2,105.8 L424.0,106.8 L426.8,108.7" fill="none" stroke="#c487d2" stroke-width="0.7"/>
<line x1="447.9" y1="114.5" x2="439.2" y2="154.0" stroke="#4f5a5c" stroke-width="0.8"/>
<line x1="448.5" y1="111.5" x2="439.6" y2="159.6" stroke="#5e90e0" stroke-width="2.1"/><path d="M436.9,158.4 L438.5,164.4 L442.0,159.4 Z" fill="#5e90e0"/>
<rect x="431.5" y="153.2" width="14.3" height="15.0" fill="none" stroke="#222" stroke-width="0.8" stroke-dasharray="1.8 1.1"/>
<line x1="431.5" y1="168.2" x2="404.2" y2="185.2" stroke="#222" stroke-width="0.8" stroke-dasharray="1.8 1.1"/>
<line x1="445.8" y1="168.2" x2="503.6" y2="185.2" stroke="#222" stroke-width="0.8" stroke-dasharray="1.8 1.1"/>
<text x="447.20" y="55.60" font-size="9.8" fill="#1a1a1a" stroke="#1a1a1a" stroke-width="0.16" text-anchor="start" font-family="Liberation Sans, sans-serif" >Z</text>
<text x="457.40" y="54.80" font-size="7.8" fill="#1a1a1a" stroke="#1a1a1a" stroke-width="0.16" text-anchor="start" font-family="Liberation Sans, sans-serif" >&lt;110&gt;</text>
<text x="404.20" y="107.70" font-size="9.2" fill="#1a1a1a" stroke="#1a1a1a" stroke-width="0.16" text-anchor="start" font-family="Liberation Sans, sans-serif" >X</text>
<text x="392.40" y="119.60" font-size="9.6" fill="#1a1a1a" stroke="#1a1a1a" stroke-width="0.16" text-anchor="start" font-family="Liberation Sans, sans-serif" >Y</text>
<circle cx="494.3" cy="52.3" r="1.7" fill="#80aad2"/>
<text x="505.80" y="54.70" font-size="6.8" fill="#111" stroke="#111" stroke-width="0.16" text-anchor="start" font-family="Liberation Sans, sans-serif" >NV1</text>
<circle cx="494.3" cy="61.8" r="1.7" fill="#ecd08c"/>
<text x="505.80" y="64.20" font-size="6.8" fill="#111" stroke="#111" stroke-width="0.16" text-anchor="start" font-family="Liberation Sans, sans-serif" >NV2</text>
<circle cx="494.3" cy="71.6" r="1.7" fill="#b88ccc"/>
<text x="505.80" y="74.00" font-size="6.8" fill="#111" stroke="#111" stroke-width="0.16" text-anchor="start" font-family="Liberation Sans, sans-serif" >NV3</text>
<defs><clipPath id="insc"><rect x="402.5" y="185.7" width="101.3" height="47.2"/></clipPath>
<linearGradient id="fade" x1="0" y1="0" x2="0" y2="1"><stop offset="0" stop-color="#fff" stop-opacity="0"/><stop offset="0.8" stop-color="#fff" stop-opacity="0"/><stop offset="1" stop-color="#fff" stop-opacity="0.9"/></linearGradient>
<linearGradient id="upr" x1="0" y1="0" x2="1" y2="0"><stop offset="0" stop-color="#ebe3e4"/><stop offset="0.4" stop-color="#e7e2ea"/><stop offset="0.5" stop-color="#e3e3ec"/><stop offset="1" stop-color="#e3e3ec"/></linearGradient>
<linearGradient id="barr" x1="0" y1="0" x2="1" y2="0"><stop offset="0" stop-color="#a9c8f2"/><stop offset="0.45" stop-color="#6c9ee4"/><stop offset="1" stop-color="#5a8fe0"/></linearGradient>
<linearGradient id="garr" x1="0" y1="0" x2="1" y2="0"><stop offset="0" stop-color="#9aa2a2"/><stop offset="0.5" stop-color="#5c6464"/><stop offset="1" stop-color="#505858"/></linearGradient></defs>
<g clip-path="url(#insc)">
<rect x="402.5" y="185.7" width="101.3" height="47.2" fill="#f1f1f6"/>
<path d="M402.5,185.7 L503.8,185.7 L503.8,231.7 C488,225 470,217.5 458,212.5 C440,205 420,196.5 402.5,191 Z" fill="url(#upr)"/>
<path d="M402.5,191 C412,194 424,198.5 433,202.3 C431,213 426,224 419,232.9 L402.5,232.9 Z" fill="#ebebd9"/>
<path d="M402.5,185.7 L431,185.7 C428,196 420,207 402.5,218 Z" fill="#e6e3e0" fill-opacity="0.7"/>
<path d="M402.5,191 C420,196.5 440,205 458,212.5 C470,217.5 488,225 503.8,231.7" fill="none" stroke="#c3cbe0" stroke-width="0.7"/>
<path d="M431,185.7 C428,196 420,207 402.5,218" fill="none" stroke="#d6d2d0" stroke-width="0.5"/>
<path d="M437.5,185.7 C433,202 424,220 410,232.9" fill="none" stroke="#cfdcec" stroke-width="0.6"/>
<path d="M402.5,207 C416,212 430,221 441,232.9" fill="none" stroke="#d2deee" stroke-width="0.6"/>
<line x1="453.0" y1="185.7" x2="454.5" y2="232.9" stroke="#d9d9e6" stroke-width="0.4"/>
<line x1="455.6" y1="185.7" x2="457.2" y2="232.9" stroke="#d9d9e6" stroke-width="0.4"/>
<line x1="458.2" y1="185.7" x2="459.9" y2="232.9" stroke="#d9d9e6" stroke-width="0.4"/>
<line x1="460.8" y1="185.7" x2="462.7" y2="232.9" stroke="#d9d9e6" stroke-width="0.4"/>
<line x1="463.4" y1="185.7" x2="465.4" y2="232.9" stroke="#d9d9e6" stroke-width="0.4"/>
<line x1="466.0" y1="185.7" x2="468.1" y2="232.9" stroke="#d9d9e6" stroke-width="0.4"/>
<line x1="468.6" y1="185.7" x2="470.8" y2="232.9" stroke="#d9d9e6" stroke-width="0.4"/>
<line x1="471.2" y1="185.7" x2="473.5" y2="232.9" stroke="#d9d9e6" stroke-width="0.4"/>
<line x1="473.8" y1="185.7" x2="476.3" y2="232.9" stroke="#d9d9e6" stroke-width="0.4"/>
<line x1="476.4" y1="185.7" x2="479.0" y2="232.9" stroke="#d9d9e6" stroke-width="0.4"/>
<line x1="479.0" y1="185.7" x2="481.7" y2="232.9" stroke="#d9d9e6" stroke-width="0.4"/>
<line x1="481.6" y1="185.7" x2="484.4" y2="232.9" stroke="#d9d9e6" stroke-width="0.4"/>
<line x1="484.2" y1="185.7" x2="487.1" y2="232.9" stroke="#d9d9e6" stroke-width="0.4"/>
<line x1="486.8" y1="185.7" x2="489.9" y2="232.9" stroke="#d9d9e6" stroke-width="0.4"/>
<line x1="489.4" y1="185.7" x2="492.6" y2="232.9" stroke="#d9d9e6" stroke-width="0.4"/>
<line x1="492.0" y1="185.7" x2="495.3" y2="232.9" stroke="#d9d9e6" stroke-width="0.4"/>
<line x1="494.6" y1="185.7" x2="498.0" y2="232.9" stroke="#d9d9e6" stroke-width="0.4"/>
<line x1="497.2" y1="185.7" x2="500.7" y2="232.9" stroke="#d9d9e6" stroke-width="0.4"/>
<line x1="499.8" y1="185.7" x2="503.5" y2="232.9" stroke="#d9d9e6" stroke-width="0.4"/>
<line x1="502.4" y1="185.7" x2="506.2" y2="232.9" stroke="#d9d9e6" stroke-width="0.4"/>
<line x1="505.0" y1="185.7" x2="508.9" y2="232.9" stroke="#d9d9e6" stroke-width="0.4"/>
<line x1="507.6" y1="185.7" x2="511.6" y2="232.9" stroke="#d9d9e6" stroke-width="0.4"/>
<line x1="405.0" y1="185.7" x2="403.5" y2="232.9" stroke="#e0dfe6" stroke-width="0.35"/>
<line x1="408.4" y1="185.7" x2="406.9" y2="232.9" stroke="#e0dfe6" stroke-width="0.35"/>
<line x1="411.8" y1="185.7" x2="410.3" y2="232.9" stroke="#e0dfe6" stroke-width="0.35"/>
<line x1="415.2" y1="185.7" x2="413.7" y2="232.9" stroke="#e0dfe6" stroke-width="0.35"/>
<line x1="418.6" y1="185.7" x2="417.1" y2="232.9" stroke="#e0dfe6" stroke-width="0.35"/>
<line x1="422.0" y1="185.7" x2="420.5" y2="232.9" stroke="#e0dfe6" stroke-width="0.35"/>
<line x1="425.4" y1="185.7" x2="423.9" y2="232.9" stroke="#e0dfe6" stroke-width="0.35"/>
<line x1="428.8" y1="185.7" x2="427.3" y2="232.9" stroke="#e0dfe6" stroke-width="0.35"/>
<line x1="432.2" y1="185.7" x2="430.7" y2="232.9" stroke="#e0dfe6" stroke-width="0.35"/>
<rect x="402.5" y="185.7" width="101.3" height="47.2" fill="url(#fade)"/>
</g>
<polygon points="444.8,185.7 448.8,185.7 440.6,227.6 436.6,226.9" fill="url(#barr)"/>
<polygon points="434.8,226.2 442.4,227.7 436.4,238.6" fill="#5f93e2"/>
<polygon points="450.4,185.7 453.2,185.7 447.4,221.6 444.6,221.1" fill="url(#garr)"/>
<polygon points="442.9,220.6 449.1,221.8 444.5,231.2" fill="#586060"/>
<text x="402.8" y="245.4" font-size="8.6" font-weight="bold" fill="#78a4e2" font-family="Liberation Sans, sans-serif">B<tspan font-size="7.1" dy="1.7">bias+current</tspan></text>
<path d="M403.0,235.4 H409.2 M407.0,233.8 L409.6,235.4 L407.0,237.0" fill="none" stroke="#6f9fe0" stroke-width="0.8"/>
<text x="460.0" y="245.4" font-size="8.6" font-weight="bold" fill="#8a8a8a" font-family="Liberation Sans, sans-serif">B<tspan font-size="7.1" dy="1.7">bias</tspan></text>
<path d="M460.2,235.8 H466.6 M464.4,234.2 L467.0,235.8 L464.4,237.4" fill="none" stroke="#808080" stroke-width="0.8"/>
</g>
</svg></body></html>
